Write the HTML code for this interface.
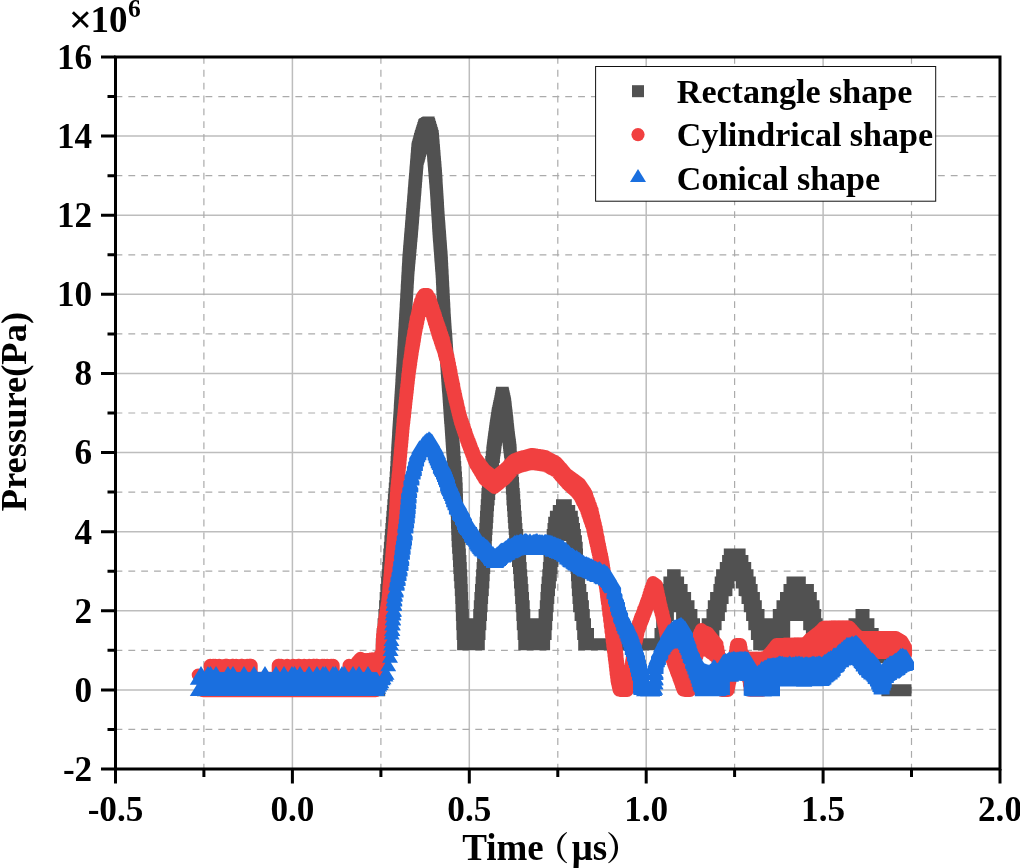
<!DOCTYPE html><html><head><meta charset="utf-8"><title>Pressure vs Time</title><style>html,body{margin:0;padding:0;background:#fff}svg{display:block}text{font-family:"Liberation Serif","Noto Serif CJK SC",serif;font-weight:bold;fill:#000}</style></head><body>
<svg width="1020" height="868" viewBox="0 0 1020 868">
<rect width="1020" height="868" fill="#fff"/>
<path d="M292.4 57V769M469.3 57V769M646.2 57V769M823.1 57V769M115.5 689.9H1000M115.5 610.8H1000M115.5 531.7H1000M115.5 452.6H1000M115.5 373.4H1000M115.5 294.3H1000M115.5 215.2H1000M115.5 136.1H1000" stroke="#BDBDBD" stroke-width="1.5" fill="none"/>
<path d="M203.9 57V769M380.9 57V769M557.8 57V769M734.6 57V769M911.5 57V769M115.5 729.4H1000M115.5 650.3H1000M115.5 571.2H1000M115.5 492.1H1000M115.5 413H1000M115.5 333.9H1000M115.5 254.8H1000M115.5 175.7H1000M115.5 96.6H1000" stroke="#ABABAB" stroke-width="1.2" stroke-dasharray="6.85 6" fill="none"/>
<path d="M203 690.3v0M203.5 690.3v0M204 690.3v0M204.5 690.3v0M205 690.3v0M205.5 690.3v0M206 690.3v0M206.5 690.3v0M207 690.3v0M207.5 690.3v0M208 690.3v0M208.5 690.3v0M209 690.3v0M209.5 690.3v0M210 690.3v0M210.5 690.3v0M211 690.3v0M211.5 690.3v0M212 690.3v0M212.5 690.3v0M213 690.3v0M213.5 690.3v0M214 690.3v0M214.5 690.3v0M215 690.3v0M215.5 690.3v0M216 690.3v0M216.5 690.3v0M217 690.3v0M217.5 690.3v0M218 690.3v0M218.5 690.3v0M219 690.3v0M219.5 690.3v0M220 690.3v0M220.5 690.3v0M221 690.3v0M221.5 690.3v0M222 690.3v0M222.5 690.3v0M223 690.3v0M223.5 690.3v0M224 690.3v0M224.5 690.3v0M225 690.3v0M225.5 690.3v0M226 690.3v0M226.5 690.3v0M227 690.3v0M227.5 690.3v0M228 690.3v0M228.5 690.3v0M229 690.3v0M229.5 690.3v0M230 690.3v0M230.5 690.3v0M231 690.3v0M231.5 690.3v0M232 690.3v0M232.5 690.3v0M233 690.3v0M233.5 690.3v0M234 690.3v0M234.5 690.3v0M235 690.3v0M235.5 690.3v0M236 690.3v0M236.5 690.3v0M237 690.3v0M237.5 690.3v0M238 690.3v0M238.5 690.3v0M239 690.3v0M239.5 690.3v0M240 690.3v0M240.5 690.3v0M241 690.3v0M241.5 690.3v0M242 690.3v0M242.5 690.3v0M243 690.3v0M243.5 690.3v0M244 690.3v0M244.5 690.3v0M245 690.3v0M245.5 690.3v0M246 690.3v0M246.5 690.3v0M247 690.3v0M247.5 690.3v0M248 690.3v0M248.5 690.3v0M249 690.3v0M249.5 690.3v0M250 690.3v0M250.5 690.3v0M251 690.3v0M251.5 690.3v0M252 690.3v0M252.5 690.3v0M253 690.3v0M253.5 690.3v0M254 690.3v0M254.5 690.3v0M255 690.3v0M255.5 690.3v0M256 690.3v0M256.5 690.3v0M257 690.3v0M257.5 690.3v0M258 690.3v0M258.5 690.3v0M259 690.3v0M259.5 690.3v0M260 690.3v0M260.5 690.3v0M261 690.3v0M261.5 690.3v0M262 690.3v0M262.5 690.3v0M263 690.3v0M263.5 690.3v0M264 690.3v0M264.5 690.3v0M265 690.3v0M265.5 690.3v0M266 690.3v0M266.5 690.3v0M267 690.3v0M267.5 690.3v0M268 690.3v0M268.5 690.3v0M269 690.3v0M269.5 690.3v0M270 690.3v0M270.5 690.3v0M271 690.3v0M271.5 690.3v0M272 690.3v0M272.5 690.3v0M273 690.3v0M273.5 690.3v0M274 690.3v0M274.5 690.3v0M275 690.3v0M275.5 690.3v0M276 690.3v0M276.5 690.3v0M277 690.3v0M277.5 690.3v0M278 690.3v0M278.5 690.3v0M279 690.3v0M279.5 690.3v0M280 690.3v0M280.5 690.3v0M281 690.3v0M281.5 690.3v0M282 690.3v0M282.5 690.3v0M283 690.3v0M283.5 690.3v0M284 690.3v0M284.5 690.3v0M285 690.3v0M285.5 690.3v0M286 690.3v0M286.5 690.3v0M287 690.3v0M287.5 690.3v0M288 690.3v0M288.5 690.3v0M289 690.3v0M289.5 690.3v0M290 690.3v0M290.5 690.3v0M291 690.3v0M291.5 690.3v0M292 690.3v0M292.5 690.3v0M293 690.3v0M293.5 690.3v0M294 690.3v0M294.5 690.3v0M295 690.3v0M295.5 690.3v0M296 690.3v0M296.5 690.3v0M297 690.3v0M297.5 690.3v0M298 690.3v0M298.5 690.3v0M299 690.3v0M299.5 690.3v0M300 690.3v0M300.5 690.3v0M301 690.3v0M301.5 690.3v0M302 690.3v0M302.5 690.3v0M303 690.3v0M303.5 690.3v0M304 690.3v0M304.5 690.3v0M305 690.3v0M305.5 690.3v0M306 690.3v0M306.5 690.3v0M307 690.3v0M307.5 690.3v0M308 690.3v0M308.5 690.3v0M309 690.3v0M309.5 690.3v0M310 690.3v0M310.5 690.3v0M311 690.3v0M311.5 690.3v0M312 690.3v0M312.5 690.3v0M313 690.3v0M313.5 690.3v0M314 690.3v0M314.5 690.3v0M315 690.3v0M315.5 690.3v0M316 690.3v0M316.5 690.3v0M317 690.3v0M317.5 690.3v0M318 690.3v0M318.5 690.3v0M319 690.3v0M319.5 690.3v0M320 690.3v0M320.5 690.3v0M321 690.3v0M321.5 690.3v0M322 690.3v0M322.5 690.3v0M323 690.3v0M323.5 690.3v0M324 690.3v0M324.5 690.3v0M325 690.3v0M325.5 690.3v0M326 690.3v0M326.5 690.3v0M327 690.3v0M327.5 690.3v0M328 690.3v0M328.5 690.3v0M329 690.3v0M329.5 690.3v0M330 690.3v0M330.5 690.3v0M331 690.3v0M331.5 690.3v0M332 690.3v0M332.5 690.3v0M333 690.3v0M333.5 690.3v0M334 690.3v0M334.5 690.3v0M335 690.3v0M335.5 690.3v0M336 690.3v0M336.5 690.3v0M337 690.3v0M337.5 690.3v0M338 690.3v0M338.5 690.3v0M339 690.3v0M339.5 690.3v0M340 690.3v0M340.5 690.3v0M341 690.3v0M341.5 690.3v0M342 690.3v0M342.5 690.3v0M343 690.3v0M343.5 690.3v0M344 690.3v0M344.5 690.3v0M345 690.3v0M345.5 690.3v0M346 690.3v0M346.5 690.3v0M347 690.3v0M347.5 690.3v0M348 690.3v0M348.5 690.3v0M349 690.3v0M349.5 690.3v0M350 690.3v0M350.5 690.3v0M351 690.3v0M351.5 690.3v0M352 690.3v0M352.5 690.3v0M353 690.3v0M353.5 690.3v0M354 690.3v0M354.5 690.3v0M355 690.3v0M355.5 690.3v0M356 690.3v0M356.5 690.3v0M357 690.3v0M357.5 690.3v0M358 690.3v0M358.5 690.3v0M359 690.3v0M359.5 690.3v0M360 690.3v0M360.5 690.3v0M361 690.3v0M361.5 690.3v0M362 690.3v0M362.5 690.3v0M363 690.3v0M363.5 690.3v0M364 690.3v0M364.5 690.3v0M365 690.3v0M365.5 690.3v0M366 690.3v0M366.5 690.3v0M367 690.3v0M367.5 690.3v0M368 690.3v0M368.5 690.3v0M369 690.3v0M369.5 690.3v0M370 690.3v0M370.5 690.3v0M371 690.3v0M371.5 690.3v0M372 690.3v0M372.5 690.3v0M373 690.3v0M373.5 690.3v0M374 690.3v0M374.5 690.3v0M375 690.3v0M375.5 690.3v0M376 690.3v0M376.5 690.3v0M377 690.3v0M377.5 690.3v0M378 690.3v0M378.1 690.3v0M378.3 690.3v0M378.4 690.3v0M378.5 690.3v0M378.7 690.3v0M378.8 690.3v0M378.9 690.3v0M379 690.3v0M379.2 690.3v0M379.3 672.5v0M379.4 672.5v0M379.6 672.5v0M379.7 672.5v0M379.8 672.5v0M380 672.5v0M380.1 672.5v0M380.2 672.5v0M380.3 672.5v0M380.5 672.5v0M380.6 672.5v0M380.7 657.3v0M380.9 657.3v0M381 657.3v0M381.1 657.3v0M381.3 657.3v0M381.4 657.3v0M381.5 657.3v0M381.7 657.3v0M381.8 644.2v0M381.9 644.2v0M382 644.2v0M382.2 644.2v0M382.3 644.2v0M382.4 644.2v0M382.6 644.2v0M382.7 634.1v0M382.8 634.1v0M383 634.1v0M383.1 634.1v0M383.2 634.1v0M383.3 634.1v0M383.5 634.1v0M383.6 624.2v0M383.7 624.2v0M383.9 624.2v0M384 624.2v0M384.1 624.2v0M384.2 624.2v0M384.4 615v0M384.5 615v0M384.6 615v0M384.7 615v0M384.9 615v0M385 615v0M385.1 606.3v0M385.2 606.3v0M385.4 606.3v0M385.5 606.3v0M385.6 606.3v0M385.7 598v0M385.9 598v0M386 598v0M386.1 598v0M386.2 598v0M386.3 598v0M386.5 590.1v0M386.6 590.1v0M386.7 590.1v0M386.8 590.1v0M387 590.1v0M387.1 582.5v0M387.2 582.5v0M387.3 582.5v0M387.5 582.5v0M387.6 582.5v0M387.7 575.2v0M387.8 575.2v0M388 575.2v0M388.1 575.2v0M388.2 568v0M388.3 568v0M388.5 568v0M388.6 568v0M388.7 568v0M388.8 561.1v0M388.9 561.1v0M389.1 561.1v0M389.2 561.1v0M389.3 554.4v0M389.4 554.4v0M389.6 554.4v0M389.7 554.4v0M389.8 554.4v0M389.9 547.8v0M390.1 547.8v0M390.2 547.8v0M390.3 547.8v0M390.4 541.3v0M390.6 541.3v0M390.7 541.3v0M390.8 541.3v0M390.9 535v0M391 535v0M391.2 535v0M391.3 535v0M391.4 528.9v0M391.5 528.9v0M391.7 528.9v0M391.8 528.9v0M391.9 522.8v0M392 522.8v0M392.2 522.8v0M392.3 522.8v0M392.4 516.8v0M392.5 516.8v0M392.7 516.8v0M392.8 516.8v0M392.9 511v0M393 511v0M393.2 511v0M393.3 511v0M393.4 505.2v0M393.5 505.2v0M393.6 505.2v0M393.8 505.2v0M393.9 499.6v0M394 499.6v0M394.1 499.6v0M394.3 499.6v0M394.4 494v0M394.5 494v0M394.6 494v0M394.8 488.5v0M394.9 488.5v0M395 488.5v0M395.1 488.5v0M395.3 483v0M395.4 483v0M395.5 483v0M395.6 483v0M395.7 477.6v0M395.8 477.6v0M395.9 477.6v0M396 472.3v0M396.1 472.3v0M396.2 472.3v0M396.3 472.3v0M396.4 467.1v0M396.4 467.1v0M396.5 467.1v0M396.6 461.9v0M396.7 461.9v0M396.8 461.9v0M396.9 456.8v0M397 456.8v0M397.1 456.8v0M397.2 452.9v0M397.3 451.4v0M397.4 449.9v0M397.5 448.4v0M397.6 446.8v0M397.7 445.3v0M397.8 443.8v0M397.9 442.3v0M398 440.8v0M398.1 439.3v0M398.1 437.8v0M398.2 436.3v0M398.3 434.8v0M398.4 433.3v0M398.5 431.8v0M398.6 430.3v0M398.7 428.8v0M398.8 427.3v0M398.9 425.8v0M399 424.2v0M399.1 422.7v0M399.2 421.2v0M399.3 419.7v0M399.4 418.2v0M399.5 416.7v0M399.6 415.2v0M399.7 413.7v0M399.8 412.2v0M399.8 410.7v0M399.9 409.2v0M400 407.7v0M400.1 406.2v0M400.2 404.7v0M400.3 403.1v0M400.4 401.6v0M400.5 400.1v0M400.6 398.6v0M400.7 397.1v0M400.8 395.6v0M400.9 394.1v0M401 392.6v0M401.1 391.1v0M401.2 389.6v0M401.3 388.1v0M401.4 386.6v0M401.4 385.1v0M401.5 383.6v0M401.6 382v0M401.7 380.5v0M401.8 379v0M401.9 377.5v0M402 376v0M402.1 374.5v0M402.2 373v0M402.3 371.5v0M402.4 370v0.1M402.5 368.5v0.2M402.6 367v0.3M402.6 365.5v0.4M402.7 364v0.5M402.8 362.5v0.6M402.9 361v0.8M403 359.4v0.9M403.1 357.9v1M403.1 356.4v1.1M403.2 354.9v1.2M403.3 353.4v1.3M403.4 351.9v1.4M403.5 350.4v1.5M403.6 348.9v1.6M403.6 347.4v1.7M403.7 345.9v1.8M403.8 344.4v1.9M403.9 342.9v2.1M404 341.4v2.2M404.1 339.9v2.3M404.1 338.4v2.4M404.2 336.8v2.5M404.3 335.3v2.6M404.4 333.8v2.7M404.5 332.3v2.8M404.6 330.8v2.9M404.6 329.3v3M404.7 327.8v3.1M404.8 326.3v3.2M404.9 324.8v3.4M405 323.3v3.5M405.1 321.8v3.6M405.1 320.3v3.7M405.2 318.8v3.8M405.3 317.3v3.9M405.4 315.8v4M405.5 314.2v4.1M405.6 312.7v4.2M405.7 311.2v4.3M405.7 309.7v4.4M405.8 308.2v4.5M405.9 306.7v4.6M406 305.2v4.8M406.1 303.7v4.9M406.2 302.2v5M406.2 300.7v5.1M406.3 299.2v5.2M406.4 297.7v5.3M406.5 296.2v5.4M406.6 294.7v5.5M406.7 293.1v5.6M406.7 291.6v5.7M406.8 290.1v5.8M406.9 288.6v5.9M407 287.1v6.1M407.1 285.6v6.2M407.2 284.1v6.3M407.2 282.6v6.4M407.3 281.1v6.5M407.4 279.6v6.6M407.5 278.1v6.7M407.6 276.6v6.8M407.7 275.1v6.9M407.7 273.6v7M407.8 272.1v7.1M407.9 270.5v7.2M408 269v7.4M408.1 267.5v7.5M408.2 266v7.6M408.2 264.5v7.7M408.3 263v7.8M408.4 261.5v7.9M408.5 260v8M408.6 258.5v8.1M408.8 256.9v8.3M408.9 255.4v8.4M409 253.9v8.6M409.1 252.3v8.7M409.2 250.8v8.9M409.4 249.2v9M409.5 247.7v9.1M409.6 246.2v9.3M409.8 244.6v9.4M409.9 243.1v9.6M410 241.6v9.7M410.1 240v9.9M410.2 238.5v10M410.4 237v10.1M410.5 235.4v10.3M410.6 233.9v10.4M410.8 232.4v10.6M410.9 230.8v10.7M411 229.3v10.9M411.1 227.8v11M411.2 226.2v11.1M411.4 224.7v11.3M411.5 223.1v11.4M411.6 221.6v11.6M411.8 220.1v11.7M411.9 218.5v11.9M412 217v12M412.1 215.5v12M412.2 214v12M412.4 212.5v12M412.5 211v12M412.6 209.4v12M412.7 207.9v12M412.9 206.4v12M413 204.9v12M413.1 203.4v12M413.2 201.9v12M413.3 200.4v12M413.5 198.9v12M413.6 197.4v12M413.7 195.8v12M413.8 194.3v12M413.9 192.8v12M414.1 191.3v12M414.2 189.8v12M414.3 188.3v12M414.4 186.8v12M414.5 185.3v12M414.7 183.8v12M414.8 182.3v12M414.9 180.7v12M415 179.2v12M415.2 177.7v12M415.3 176.2v12M415.4 174.7v12M415.5 173.2v12M415.6 171.6v12M415.8 170.1v12M415.9 168.5v12M416 167v12M416.1 165.4v12M416.3 163.9v12M416.4 162.3v12M416.5 160.8v12M416.6 159.2v12M416.8 157.7v12M416.9 156.1v12M417 154.6v12M417.1 153v12M417.3 151.5v12M417.4 149.9v12M417.5 148.4v12M417.9 146.8v12M418.4 145.3v12M418.8 143.8v12M419.2 142.2v12M419.6 140.7v12M420 139.1v12M420.5 137.6v12M420.9 136v12M421.4 134.4v11.4M421.9 132.8v10.9M422.4 131.2v10.3M422.9 129.7v9.7M423.4 128.1v9.1M423.9 126.5v8.6M424.4 124.9v8M424.9 124.6v7M425.4 124.3v6M426 124v5M426.5 123.7v4M427 123.3v3M427.6 123v2M428.1 122.7v1M428.6 122.4v0M429.1 123.9v1.3M429.5 125.4v2.7M430 126.9v4M430.4 128.4v5.3M430.9 130v6.7M431.3 131.5v8M431.8 133v9.3M432.2 134.5v10.7M432.7 136v12M432.8 137.5v12M433 139.1v12M433.1 140.6v12M433.2 142.2v12M433.3 143.7v12M433.5 145.3v12M433.6 146.8v12M433.7 148.4v12M433.9 149.9v12M434 151.5v12M434.1 153v12M434.2 154.6v12M434.4 156.1v12M434.5 157.7v12M434.6 159.2v12M434.7 160.8v12M434.9 162.3v12M435 163.9v12M435.1 165.4v12M435.3 167v12M435.4 168.5v12M435.5 170.1v12M435.6 171.6v12M435.8 173.2v12M435.9 174.7v12M436 176.2v12M436.1 177.7v12M436.2 179.2v12M436.3 180.7v12M436.4 182.2v12M436.5 183.8v12M436.6 185.3v12M436.6 186.8v12M436.7 188.3v12M436.8 189.8v12M436.9 191.3v12M437 192.8v12M437.1 194.3v12M437.2 195.8v12M437.3 197.3v12M437.4 198.9v12M437.5 200.4v12M437.6 201.9v12M437.7 203.4v12M437.8 204.9v12M437.9 206.4v12M438 207.9v12M438 209.4v12M438.1 210.9v12M438.2 212.4v12M438.3 214v12M438.4 215.5v12M438.5 217v12M438.6 218.5v12M438.7 220v12M438.8 221.5v12M438.9 223.1v12M439 224.6v12M439.2 226.2v12M439.3 227.7v12M439.4 229.2v12M439.5 230.8v12M439.6 232.3v12M439.7 233.8v12M439.9 235.4v12M440 236.9v12M440.1 238.5v12M440.2 240v12M440.3 241.5v12M440.4 243.1v12M440.5 244.6v12M440.7 246.2v12M440.8 247.7v12M440.9 249.2v12M441 250.8v12M441.1 252.3v12M441.2 253.8v12M441.4 255.4v12M441.5 256.9v12M441.6 258.5v12M441.7 260v12M441.8 261.5v12.2M441.9 263v12.4M441.9 264.5v12.6M442 266v12.8M442.1 267.5v13M442.2 269v13.2M442.2 270.5v13.4M442.3 272v13.6M442.4 273.5v13.8M442.5 275v14M442.6 276.5v14.2M442.6 278v14.4M442.7 279.5v14.6M442.8 281v14.8M442.9 282.5v15M442.9 284v15.2M443 285.5v15.4M443.1 287v15.6M443.2 288.5v15.8M443.2 290v16M443.3 291.5v16.2M443.4 293v16.4M443.5 294.5v16.6M443.6 296v16.8M443.6 297.5v17M443.7 299v17.2M443.8 300.5v17.4M443.9 302v17.6M443.9 303.5v17.8M444 305v18M444.1 306.5v18.2M444.2 308v18.4M444.3 309.5v18.6M444.3 311v18.8M444.4 312.5v19M444.5 314v19.2M444.6 315.5v19.4M444.6 317v19.6M444.7 318.5v19.8M444.8 320v20M444.9 321.5v20M445 323v20M445.1 324.5v20M445.2 326v20M445.3 327.5v20M445.4 329v20M445.5 330.5v20M445.6 332v20M445.7 333.5v20M445.8 335v20M446 336.5v20M446.1 338v20M446.2 339.5v20M446.3 341v20M446.4 342.5v20M446.5 344v20M446.6 345.5v20M446.7 347v20M446.8 348.5v20M446.9 350v20M447 351.5v20M447.1 353v20M447.2 354.5v20M447.3 356v20M447.4 357.5v20M447.5 359v20M447.6 360.5v20M447.7 362v20M447.8 363.5v20M447.9 365v20M448 366.5v20M448.2 368v20M448.3 369.5v20M448.4 371v20M448.5 372.5v20M448.6 374v20M448.7 375.5v20M448.8 377v20M448.9 378.5v20M449 380v20M449.1 381.5v20M449.2 383v20M449.3 384.5v20M449.4 386v20M449.5 387.5v20M449.6 389v20M449.7 390.5v20M449.8 392v20M449.9 393.5v20M450 395v20M450.1 396.5v20M450.2 398v20M450.4 399.5v20M450.5 401v20M450.6 402.5v20M450.7 404v20M450.8 405.5v20M450.9 407v20M451 408.5v20M451.1 410v20M451.2 411.5v20M451.3 413v20M451.4 414.5v20M451.5 416v20M451.6 417.5v20M451.7 419v20M451.8 420.5v20M451.9 422v20M452 423.5v20M452.1 425v20M452.2 426.5v20M452.3 428v20M452.4 429.5v20M452.6 431v20M452.7 432.5v20M452.8 434v17.7M452.9 435.5v21.3M453 437v19.8M453.1 438.5v18.3M453.2 440v21.9M453.3 441.5v20.4M453.4 443v18.9M453.5 444.5v17.4M453.6 446v21.1M453.7 447.5v19.6M453.8 449.1v18M453.9 450.6v21.7M454.1 452.2v20.2M454.2 453.7v18.7M454.3 456.8v20.8M454.4 456.8v20.8M454.5 461.9v15.7M454.6 461.9v15.7M454.8 461.9v21.1M454.9 467.1v15.9M455 467.1v15.9M455.1 467.1v21.3M455.2 467.1v21.3M455.3 472.3v16.1M455.4 472.3v16.1M455.6 472.3v21.6M455.7 477.6v16.3M455.8 477.6v16.3M455.9 477.6v21.9M456 477.6v21.9M456.1 483v16.5M456.3 483v16.5M456.4 483v22.2M456.5 488.5v16.8M456.6 488.5v16.8M456.6 488.5v16.8M456.7 488.5v22.5M456.7 494v17M456.8 494v17M456.8 494v17M456.9 499.6v17.3M456.9 499.6v17.3M457 499.6v17.3M457 499.6v23.2M457 505.2v17.6M457.1 505.2v17.6M457.1 505.2v17.6M457.2 511v17.9M457.2 511v17.9M457.3 511v17.9M457.3 511v17.9M457.4 516.8v18.2M457.4 516.8v18.2M457.5 516.8v18.2M457.6 516.8v18.2M457.7 522.8v18.5M457.8 522.8v18.5M457.9 522.8v18.5M458 522.8v18.5M458.1 528.9v18.9M458.2 528.9v18.9M458.3 528.9v18.9M458.4 528.9v18.9M458.5 535v12.7M458.6 535v19.3M458.7 535v19.3M458.8 535v19.3M458.9 541.3v13M459 541.3v19.8M459.1 541.3v19.8M459.1 541.3v19.8M459.2 547.8v13.3M459.3 547.8v20.3M459.4 547.8v20.3M459.5 547.8v20.3M459.6 554.4v13.7M459.7 554.4v13.7M459.8 554.4v20.8M459.9 554.4v20.8M460 561.1v14.1M460.1 561.1v14.1M460.2 561.1v14.1M460.3 561.1v21.4M460.4 561.1v21.4M460.5 568v14.5M460.6 568v14.5M460.7 568v14.5M460.8 568v22.1M460.9 575.2v15M461 575.2v15M461 575.2v15M461.1 575.2v15M461.2 575.2v22.9M461.2 582.5v15.5M461.3 582.5v15.5M461.3 582.5v15.5M461.4 582.5v15.5M461.5 582.5v23.8M461.5 590.1v16.2M461.6 590.1v16.2M461.7 590.1v16.2M461.7 590.1v16.2M461.8 590.1v16.2M461.9 598v16.9M461.9 598v16.9M462 598v16.9M462 598v16.9M462.1 598v16.9M462.2 606.3v17.9M462.2 606.3v17.9M462.3 606.3v17.9M462.4 606.3v17.9M462.4 606.3v17.9M462.5 606.3v17.9M462.6 615v9.2M462.6 615v19.1M462.7 615v19.1M462.8 615v19.1M462.8 615v19.1M462.9 615v19.1M462.9 624.2v9.9M463 624.2v9.9M463.1 624.2v20M463.1 624.2v20M463.2 624.2v20M463.7 624.2v20M464.2 624.2v20M464.7 624.2v20M465.2 624.2v20M465.8 624.2v20M466.3 624.2v20M466.8 624.2v20M467.3 624.2v20M467.8 624.2v20M468.3 624.2v20M468.8 624.2v20M469.3 624.2v20M469.8 624.2v20M470.3 624.2v20M470.9 624.2v20M471.4 624.2v20M471.9 624.2v20M472.4 624.2v20M472.9 624.2v20M473.4 624.2v20M473.9 624.2v20M474.4 624.2v20M474.9 624.2v20M475.4 624.2v20M475.9 624.2v20M476.5 624.2v20M477 624.2v20M477.5 624.2v20M478 624.2v20M478.5 624.2v20M478.6 624.2v20M478.7 624.2v20M478.8 624.2v20M479 624.2v9.9M479.1 624.2v9.9M479.2 615v19.1M479.3 615v19.1M479.4 615v19.1M479.5 615v19.1M479.6 615v9.2M479.8 606.3v17.9M479.9 606.3v17.9M480 606.3v17.9M480.1 606.3v17.9M480.2 606.3v17.9M480.3 606.3v17.9M480.4 598v16.9M480.5 598v16.9M480.7 598v16.9M480.8 598v16.9M480.9 598v16.9M481 590.1v24.9M481.1 590.1v16.2M481.2 590.1v16.2M481.3 590.1v16.2M481.5 590.1v16.2M481.6 582.5v23.8M481.7 582.5v15.5M481.8 582.5v15.5M481.9 582.5v15.5M482 582.5v15.5M482.1 575.2v22.9M482.2 575.2v15M482.3 575.2v15M482.4 575.2v15M482.5 575.2v15M482.6 568v22.1M482.8 568v22.1M482.9 568v14.5M483 568v14.5M483.1 561.1v21.4M483.2 561.1v21.4M483.3 561.1v21.4M483.4 561.1v14.1M483.5 561.1v14.1M483.6 554.4v20.8M483.7 554.4v20.8M483.8 554.4v13.7M483.9 554.4v13.7M484 547.8v20.3M484.1 547.8v20.3M484.2 547.8v20.3M484.3 547.8v13.3M484.4 547.8v13.3M484.5 541.3v19.8M484.6 541.3v19.8M484.7 541.3v13M484.8 541.3v13M484.9 535v19.3M485 535v19.3M485.1 535v12.7M485.2 535v12.7M485.3 528.9v18.9M485.4 528.9v18.9M485.5 528.9v12.5M485.6 528.9v12.5M485.7 522.8v18.5M485.8 522.8v18.5M485.8 522.8v12.2M485.9 522.8v12.2M486 516.8v18.2M486.1 516.8v18.2M486.2 516.8v12M486.3 516.8v12M486.4 511v17.9M486.5 511v17.9M486.6 511v11.8M486.7 511v11.8M486.8 505.2v17.6M486.9 505.2v17.6M487 505.2v11.6M487.1 505.2v11.6M487.2 499.6v17.3M487.3 499.6v17.3M487.4 499.6v11.4M487.5 494v17M487.6 494v17M487.7 494v11.3M487.8 494v11.3M487.9 488.5v16.8M488 488.5v16.8M488.2 488.5v11.1M488.4 488.5v11.1M488.6 483v16.5M488.8 483v11M489 483v11M489.2 477.6v16.3M489.4 477.6v10.8M489.6 477.6v10.8M489.8 472.3v16.1M490 472.3v16.1M490.2 472.3v10.7M490.4 472.3v10.7M490.6 467.1v15.9M490.8 467.1v10.5M491 467.1v10.5M491.2 461.9v15.7M491.4 461.9v10.4M491.6 461.9v10.4M491.8 456.8v15.5M492 456.8v15.5M492.1 456.8v10.3M492.3 452.8v14.3M492.5 451.3v15.8M492.7 449.7v12.2M492.9 448.2v13.7M493.1 446.6v15.3M493.3 445.1v11.7M493.5 443.5v13.3M493.7 442v14.9M493.9 440.4v16.4M494.1 438.8v14M494.3 437.2v14M494.6 435.7v14M494.8 434.1v14M495 432.5v14M495.2 430.9v14M495.4 429.4v14M495.6 427.8v14M495.9 426.1v14M496.1 424.5v14M496.4 422.8v14M496.6 421.2v14M496.9 419.5v14M497.1 417.9v14M497.4 416.2v14M497.6 414.6v14M497.9 412.9v14M498.3 411.2v14M498.7 409.4v14M499 407.7v14M499.4 406v14M499.8 404.2v14M500.2 402.5v14M500.5 400.9v13.3M500.8 399.2v12.7M501.1 397.6v12M501.4 396v11.3M501.7 394.3v10.7M502 392.7v10M502.7 392.7v10M503.1 394.3v9.3M503.4 396v8.7M503.8 397.6v8M504.2 399.2v7.3M504.5 400.9v6.7M504.9 402.5v6M505.1 404v5.8M505.3 405.6v5.6M505.5 407.1v5.3M505.7 408.6v5.1M505.8 410.2v4.9M506 411.7v4.7M506.2 413.2v4.4M506.4 414.8v4.2M506.6 416.3v4M506.8 417.9v4M506.9 419.4v4M507.1 421v4M507.3 422.6v4M507.4 424.2v4M507.6 425.7v4M507.7 427.3v4M507.9 428.9v4M508.1 430.5v4M508.2 432v4M508.4 433.6v4M508.6 435.2v4.2M508.8 436.9v4.4M509 438.5v4.6M509.2 440.2v4.8M509.4 441.8v5M509.7 443.4v5.2M509.9 445.1v5.4M510.1 446.7v5.6M510.3 448.4v3.4M510.5 450v6.8M510.6 451.5v5.3M510.7 453.1v8.9M510.8 456.8v5.1M510.9 456.8v10.3M511.1 461.9v5.2M511.2 461.9v10.4M511.3 461.9v10.4M511.4 461.9v10.4M511.5 467.1v10.5M511.6 467.1v10.5M511.7 467.1v15.9M511.8 472.3v10.7M511.9 472.3v16.1M512.1 472.3v16.1M512.2 472.3v16.1M512.3 477.6v16.3M512.4 477.6v16.3M512.5 477.6v21.9M512.6 483v16.5M512.7 483v16.5M512.8 483v16.5M513 483v22.2M513.1 488.5v16.8M513.2 488.5v16.8M513.3 488.5v16.8M513.4 494v17M513.5 494v17M513.6 494v17M513.8 494v22.9M513.9 499.6v17.3M514 499.6v17.3M514.1 499.6v17.3M514.2 499.6v23.2M514.3 505.2v17.6M514.4 505.2v17.6M514.6 505.2v17.6M514.7 505.2v23.6M514.8 511v17.9M514.9 511v17.9M515 511v17.9M515.1 516.8v18.2M515.2 516.8v18.2M515.4 516.8v18.2M515.5 516.8v18.2M515.6 522.8v12.2M515.7 522.8v18.5M515.8 522.8v18.5M515.9 522.8v18.5M516 528.9v12.5M516.2 528.9v18.9M516.3 528.9v18.9M516.4 528.9v18.9M516.5 535v12.7M516.8 535v19.3M517 535v19.3M517.2 535v19.3M517.5 541.3v13M517.8 541.3v13M518 541.3v19.8M518.2 541.3v19.8M518.5 541.3v19.8M518.8 547.8v13.3M519 547.8v20.3M519.1 547.8v20.3M519.2 547.8v20.3M519.3 554.4v13.7M519.5 554.4v13.7M519.6 554.4v20.8M519.7 554.4v20.8M519.8 561.1v14.1M519.9 561.1v14.1M520 561.1v21.4M520.1 561.1v21.4M520.3 568v14.5M520.4 568v14.5M520.5 568v14.5M520.6 568v22.1M520.7 568v22.1M520.8 575.2v15M521 575.2v15M521.1 575.2v22.9M521.2 575.2v22.9M521.3 582.5v15.5M521.4 582.5v15.5M521.5 582.5v15.5M521.7 582.5v23.8M521.8 582.5v23.8M521.9 590.1v16.2M522 590.1v16.2M522.1 590.1v16.2M522.3 590.1v24.9M522.4 590.1v24.9M522.5 598v16.9M522.6 598v16.9M522.7 598v16.9M522.8 598v26.2M523 598v26.2M523.1 606.3v17.9M523.2 606.3v17.9M523.3 606.3v17.9M523.4 606.3v17.9M523.6 606.3v27.8M523.7 606.3v27.8M523.8 615v19.1M523.9 615v19.1M524 615v19.1M524.1 615v19.1M524.3 615v29.2M524.4 624.2v20M524.5 624.2v20M525 624.2v20M525.5 624.2v20M526 624.2v20M526.5 624.2v20M527 624.2v20M527.5 624.2v20M528 624.2v20M528.5 624.2v20M529 624.2v20M529.5 624.2v20M530 624.2v20M530.5 624.2v20M531 624.2v20M531.5 624.2v20M532 624.2v20M532.5 624.2v20M533 624.2v20M533.5 624.2v20M534 624.2v20M534.5 624.2v20M535 624.2v20M535.5 624.2v20M536 624.2v20M536.5 624.2v20M537 624.2v20M537.5 624.2v20M538 624.2v20M538.5 624.2v20M539 624.2v20M539.5 624.2v20M540 624.2v20M540.5 624.2v20M541 624.2v20M541.5 624.2v20M542 624.2v20M542.5 624.2v20M543 624.2v20M543.5 624.2v20M544.1 624.2v20M544.6 615v19.1M545.2 615v19.1M545.3 615v19.1M545.4 615v19.1M545.6 615v19.1M545.7 615v9.2M545.8 606.3v17.9M545.9 606.3v17.9M546 606.3v17.9M546.1 606.3v17.9M546.2 606.3v17.9M546.4 598v16.9M546.5 598v16.9M546.6 598v16.9M546.7 598v16.9M546.8 598v16.9M546.9 590.1v24.9M547.1 590.1v16.2M547.2 590.1v16.2M547.3 590.1v16.2M547.4 590.1v16.2M547.6 582.5v23.8M547.7 582.5v15.5M547.9 582.5v15.5M548 582.5v15.5M548.1 582.5v15.5M548.3 575.2v22.9M548.4 575.2v15M548.6 575.2v15M548.7 575.2v15M548.9 568v22.1M549 568v22.1M549.2 568v14.5M549.4 568v14.5M549.5 561.1v21.4M549.7 561.1v21.4M549.9 561.1v21.4M550.1 561.1v14.1M550.2 561.1v14.1M550.4 554.4v20.8M550.6 554.4v20.8M550.8 554.4v20.8M551 554.4v13.7M551.1 547.8v20.3M551.3 547.8v20.3M551.5 547.8v20.3M551.7 547.8v13.3M551.9 547.8v13.3M552 541.3v19.8M552.2 541.3v19.8M552.4 541.3v19.8M552.6 541.3v13M552.7 535v19.3M552.9 535v19.3M553.1 535v19.3M553.3 535v12.7M553.5 528.9v18.9M553.7 528.9v18.9M553.8 528.9v18.9M554 528.9v12.5M554.2 522.8v18.5M554.8 522.8v18.5M555.4 522.8v18.5M555.9 516.8v18.2M556.5 516.8v18.2M557.1 516.8v18.2M557.7 516.8v18.2M558.2 516.8v18.2M558.8 511v24M559.4 511v24M559.9 511v17.9M560.5 511v17.9M561 511v17.9M561.5 511v17.9M562 505.2v23.6M562.6 505.2v23.6M563.1 505.2v23.6M563.6 505.2v23.6M564.2 505.2v23.6M564.7 505.2v23.6M565.3 505.2v23.6M565.8 505.2v23.6M566.4 511v17.9M566.9 511v17.9M567.5 511v17.9M568 511v17.9M568.6 511v24M569.2 511v24M569.8 516.8v18.2M570.3 516.8v18.2M570.9 516.8v18.2M571.5 516.8v18.2M571.8 516.8v18.2M572.2 522.8v18.5M572.5 522.8v18.5M572.9 522.8v18.5M573.2 528.9v12.5M573.5 528.9v18.9M573.8 528.9v18.9M574 528.9v18.9M574.3 535v12.7M574.6 535v19.3M574.9 535v19.3M575.1 541.3v13M575.4 541.3v13M575.6 541.3v19.8M575.9 541.3v19.8M576.1 547.8v13.3M576.4 547.8v13.3M576.6 547.8v20.3M576.7 547.8v20.3M576.8 554.4v13.7M576.9 554.4v13.7M577 554.4v20.8M577 554.4v20.8M577.1 561.1v14.1M577.2 561.1v14.1M577.3 561.1v14.1M577.4 561.1v21.4M577.5 561.1v21.4M577.6 568v14.5M577.7 568v14.5M577.9 568v22.1M578 568v22.1M578.1 575.2v15M578.2 575.2v15M578.3 575.2v15M578.5 575.2v22.9M578.6 575.2v22.9M578.7 582.5v15.5M578.8 582.5v15.5M578.9 582.5v15.5M579.1 582.5v23.8M579.2 590.1v16.2M579.3 590.1v16.2M579.6 590.1v16.2M579.9 590.1v16.2M580.3 590.1v16.2M580.6 598v16.9M580.9 598v16.9M581.2 598v16.9M581.6 598v16.9M581.9 598v16.9M582.2 606.3v8.7M582.3 606.3v17.9M582.5 606.3v17.9M582.6 606.3v17.9M582.8 606.3v17.9M582.9 606.3v17.9M583.1 615v9.2M583.2 615v19.1M583.4 615v19.1M583.5 615v19.1M583.6 615v19.1M583.8 615v19.1M583.9 624.2v9.9M584.1 624.2v9.9M584.2 624.2v20M584.4 624.2v20M584.5 624.2v20M585 624.2v20M585.5 634.1v10.1M586 634.1v10.1M586.5 634.1v10.1M587 634.1v10.1M587.5 634.1v10.1M588 634.1v10.1M588.3 644.2v0M588.7 644.2v0M589 644.2v0M589.3 644.2v0M589.7 644.2v0M590 644.2v0M590.5 644.2v0M591 644.2v0M591.5 644.2v0M592 644.2v0M592.5 644.2v0M593 644.2v0M593.5 644.2v0M594 644.2v0M594.5 644.2v0M595 644.2v0M595.5 644.2v0M596 644.2v0M596.5 644.2v0M597 644.2v0M597.5 644.2v0M598 644.2v0M598.5 644.2v0M599 644.2v0M599.5 644.2v0M600 644.2v0M600.5 644.2v0M601 644.2v0M601.5 644.2v0M602 644.2v0M602.5 644.2v0M603 644.2v0M603.5 644.2v0M604 644.2v0M604.5 644.2v0M605 644.2v0M605.5 644.2v0M606 644.2v0M606.5 644.2v0M607 644.2v0M607.5 644.2v0M608 644.2v0M608.5 644.2v0M609 644.2v0M609.5 644.2v0M610 644.2v0M610.5 644.2v0M611 644.2v0M611.5 644.2v0M612 644.2v0M612.5 644.2v0M613 644.2v0M613.5 644.2v0M614 644.2v0M614.5 644.2v0M615 644.2v0M615.5 644.2v0M616 644.2v0M616.5 644.2v0M617 644.2v0M617.5 644.2v0M618 644.2v0M618.5 644.2v0M619 644.2v0M619.5 644.2v0M620 644.2v0M620.5 644.2v0M621 644.2v0M621.5 644.2v0M622 644.2v0M622.5 644.2v0M623 644.2v0M623.5 644.2v0M624 644.2v0M624.5 644.2v0M625 644.2v0M625.5 644.2v0M626 644.2v0M626.5 644.2v0M627 644.2v0M627.5 644.2v0M628 644.2v0M628.5 644.2v0M629 644.2v0M629.5 644.2v0M630 644.2v0M630.5 644.2v0M631 644.2v0M631.5 644.2v0M632 644.2v0M632.5 644.2v0M633 644.2v0M633.5 644.2v0M634 644.2v0M634.5 644.2v0M635 644.2v0M635.5 644.2v0M636 644.2v0M636.5 644.2v0M637 644.2v0M637.5 644.2v0M638 644.2v0M638.5 644.2v0M639 644.2v0M639.5 644.2v0M640 644.2v0M640.5 644.2v0M641 644.2v0M641.5 644.2v0M642 644.2v0M642.5 644.2v0M643 644.2v0M643.5 644.2v0M644 644.2v0M644.5 644.2v0M645 644.2v0M645.5 644.2v0M646 644.2v0M646.5 644.2v0M647 644.2v0M647.5 644.2v0M648 644.2v0M648.5 644.2v0M649 644.2v0M649.5 644.2v0M650 644.2v0M650.5 644.2v0M651 644.2v0M651.5 644.2v0M652 644.2v0M652.5 644.2v0M653 644.2v0M653.5 644.2v0M654 644.2v0M654.5 644.2v0M655 644.2v0M655.5 644.2v0M656 644.2v0M656.5 644.2v0M657 644.2v0M657.5 644.2v0M658 644.2v0M658.5 644.2v0M659 644.2v0M659.2 644.2v0M659.5 644.2v0M659.8 644.2v0M660 644.2v0M660.2 644.2v0M660.5 634.1v10.1M660.8 634.1v10.1M661 634.1v10.1M661.2 634.1v10.1M661.5 634.1v10.1M661.7 634.1v0M661.9 634.1v0M662.2 624.2v9.9M662.4 624.2v9.9M662.6 624.2v9.9M662.9 624.2v9.9M663.1 624.2v9.9M663.4 624.2v9.9M663.6 615v19.1M663.8 615v19.1M664.1 615v19.1M664.3 615v9.2M664.5 615v9.2M664.8 606.3v17.9M665 606.3v17.9M665.3 606.3v17.9M665.6 606.3v17.9M665.9 606.3v17.9M666.2 606.3v17.9M666.5 598v16.9M666.8 598v16.9M667.1 598v16.9M667.3 598v16.9M667.6 598v16.9M667.9 590.1v24.9M668.2 590.1v16.2M668.5 590.1v16.2M668.8 590.1v16.2M669.1 590.1v16.2M669.4 582.5v23.8M669.9 582.5v23.8M670.5 582.5v15.5M671 582.5v15.5M671.5 582.5v15.5M672 582.5v15.5M672.6 582.5v15.5M673.1 575.2v22.9M673.6 575.2v22.9M674.2 575.2v22.9M674.7 575.2v22.9M675.3 582.5v15.5M675.8 582.5v15.5M676.4 582.5v15.5M677 582.5v15.5M677.5 582.5v15.5M678.1 582.5v23.8M678.6 590.1v16.2M679.1 590.1v16.2M679.6 590.1v16.2M680.1 590.1v16.2M680.6 590.1v16.2M681.1 590.1v16.2M681.6 590.1v16.2M682.1 598v16.9M682.6 598v16.9M683.1 598v16.9M683.6 598v16.9M684.1 598v16.9M684.6 598v16.9M685.1 598v16.9M685.7 606.3v17.9M686.2 606.3v17.9M686.8 606.3v17.9M687.4 606.3v17.9M687.9 606.3v17.9M688.5 606.3v17.9M689 615v9.2M689.5 615v19.1M690 615v19.1M690.4 615v19.1M690.9 615v19.1M691.4 615v19.1M691.8 624.2v9.9M692.3 624.2v9.9M692.7 624.2v20M693.1 624.2v20M693.6 624.2v20M694 624.2v20M694.5 634.1v10.1M695 634.1v10.1M695.5 634.1v10.1M696 634.1v10.1M696.5 634.1v10.1M697 634.1v10.1M697.5 634.1v10.1M698 634.1v10.1M698.5 634.1v10.1M699 634.1v10.1M699.5 634.1v10.1M700 634.1v10.1M700.6 634.1v10.1M701.1 634.1v10.1M701.6 634.1v10.1M702.1 634.1v10.1M702.6 634.1v10.1M703.1 634.1v10.1M703.6 634.1v10.1M704.1 634.1v10.1M704.6 634.1v10.1M705.1 634.1v10.1M705.6 634.1v10.1M706.1 634.1v10.1M706.7 634.1v10.1M707.2 634.1v10.1M707.7 624.2v20M708.2 624.2v20M708.7 624.2v20M709.2 624.2v20M709.8 624.2v20M710.3 624.2v20M710.9 624.2v20M711.4 624.2v9.9M712 624.2v9.9M712.5 615v19.1M712.7 615v19.1M712.9 615v19.1M713.1 615v19.1M713.4 615v19.1M713.6 615v9.2M713.8 606.3v17.9M714.3 606.3v17.9M714.7 606.3v17.9M715.2 606.3v17.9M715.6 606.3v17.9M716.1 598v16.9M716.6 598v16.9M717.2 598v16.9M717.8 598v16.9M718.3 598v16.9M718.9 598v16.9M719.4 590.1v16.2M719.7 590.1v16.2M720 590.1v16.2M720.4 590.1v16.2M720.7 582.5v23.8M721.1 582.5v15.5M721.4 582.5v15.5M721.8 582.5v15.5M722.1 575.2v22.9M722.6 575.2v22.9M723.2 575.2v15M723.7 575.2v15M724.2 575.2v15M724.7 575.2v15M725.3 575.2v15M725.8 568v22.1M726.4 568v22.1M727 568v14.5M727.5 568v14.5M728.1 561.1v21.4M728.5 561.1v21.4M729 561.1v14.1M729.4 561.1v14.1M729.8 554.4v20.8M730.3 554.4v20.8M730.8 554.4v20.8M731.3 554.4v20.8M731.9 554.4v20.8M732.4 554.4v20.8M732.9 554.4v20.8M733.4 554.4v20.8M733.9 554.4v20.8M734.4 554.4v20.8M735 554.4v20.8M735.5 554.4v20.8M736 554.4v20.8M736.5 554.4v20.8M737 554.4v20.8M737.5 554.4v20.8M738.1 554.4v20.8M738.6 554.4v20.8M739.1 554.4v20.8M739.6 554.4v20.8M740.2 561.1v14.1M740.7 561.1v14.1M741.3 561.1v14.1M741.8 561.1v21.4M742.4 561.1v21.4M743 568v14.5M743.5 568v14.5M744.1 568v14.5M744.6 568v22.1M745.2 568v22.1M745.8 575.2v15M746.4 575.2v15M746.9 575.2v15M747.5 575.2v22.9M748.1 582.5v15.5M748.6 582.5v15.5M749.2 582.5v15.5M749.8 582.5v23.8M750.2 590.1v16.2M750.7 590.1v16.2M751.1 590.1v16.2M751.6 590.1v16.2M752.1 598v16.9M752.5 598v16.9M753 598v16.9M753.4 598v16.9M753.9 598v16.9M754.3 606.3v17.9M754.7 606.3v17.9M755 606.3v17.9M755.4 606.3v17.9M755.8 606.3v17.9M756.3 615v9.2M756.9 615v19.1M757.4 615v19.1M758 615v19.1M758.5 615v19.1M758.8 624.2v9.9M759 624.2v9.9M759.2 624.2v20M759.5 624.2v20M759.8 624.2v20M760 624.2v20M760.5 624.2v20M761 624.2v20M761.5 624.2v20M762 624.2v20M762.5 624.2v20M763 624.2v20M763.5 624.2v20M764 624.2v20M764.5 624.2v20M765 624.2v20M765.5 624.2v20M766 624.2v20M766.5 624.2v20M767 624.2v20M767.5 624.2v20M768 624.2v20M768.5 624.2v20M769 624.2v20M769.5 624.2v20M770 624.2v20M770.5 624.2v20M771 624.2v20M771.5 624.2v20M772 624.2v20M772.5 624.2v20M773 624.2v20M773.5 624.2v20M774 624.2v20M774.5 624.2v20M775 624.2v20M775.5 624.2v20M776 624.2v20M776.5 624.2v20M777 624.2v20M777.5 624.2v20M777.8 624.2v20M778 624.2v20M778.3 624.2v9.9M778.5 624.2v9.9M778.8 615v19.1M779.3 615v19.1M779.9 615v19.1M780.4 615v19.1M780.9 615v19.1M781.4 615v19.1M782 615v19.1M782.5 606.3v27.8M783.1 606.3v27.8M783.6 606.3v27.8M784.2 606.3v27.8M784.4 606.3v8.7M784.9 606.3v8.7M785.4 606.3v8.7M786 598v16.9M786.5 598v16.9M787 598v16.9M787.5 598v16.9M788 598v16.9M788.5 598v16.9M789 598v16.9M789.5 590.1v24.9M790 590.1v24.9M790.5 590.1v24.9M791 590.1v24.9M791.5 590.1v24.9M792 590.1v24.9M792.5 582.5v32.5M793 582.5v32.5M793.5 582.5v32.5M794.1 582.5v32.5M794.6 582.5v32.5M795.1 582.5v32.5M795.6 582.5v32.5M796.1 582.5v32.5M796.7 582.5v32.5M797.2 582.5v32.5M797.7 582.5v32.5M798.2 582.5v32.5M798.8 582.5v32.5M799.3 582.5v32.5M799.8 582.5v32.5M800.3 590.1v24.9M800.8 590.1v24.9M801.3 590.1v24.9M801.8 590.1v24.9M802.3 590.1v24.9M802.8 590.1v24.9M803.3 590.1v24.9M803.8 590.1v24.9M804.4 590.1v24.9M804.9 590.1v24.9M805.4 590.1v24.9M805.9 590.1v24.9M806.4 590.1v24.9M806.9 590.1v24.9M807.4 590.1v24.9M807.9 590.1v24.9M808.5 598v16.9M809 598v16.9M809.2 598v26.2M809.7 598v26.2M810.3 598v26.2M810.8 598v26.2M811.4 606.3v17.9M811.9 606.3v27.8M812.4 606.3v27.8M813 606.3v27.8M813.5 606.3v27.8M813.8 615v19.1M814.1 615v19.1M814.4 615v19.1M814.7 615v19.1M815 615v19.1M815.2 615v19.1M815.5 624.2v20M815.8 624.2v20M816.1 624.2v20M816.4 624.2v20M816.7 624.2v20M817 634.1v10.1M817.4 634.1v10.1M817.7 634.1v10.1M818 634.1v10.1M818.4 634.1v23.2M818.7 634.1v23.2M819 634.1v23.2M819.3 644.2v13.1M819.7 644.2v13.1M820 644.2v13.1M820.5 644.2v13.1M821 644.2v13.1M821.5 644.2v13.1M822 644.2v13.1M822.5 644.2v13.1M823 644.2v13.1M823.5 644.2v13.1M824 644.2v13.1M824.5 644.2v13.1M825 644.2v13.1M825.5 644.2v13.1M826 644.2v13.1M826.5 644.2v13.1M827 644.2v13.1M827.5 644.2v13.1M828 644.2v13.1M828.5 644.2v13.1M829 644.2v13.1M829.5 644.2v13.1M830 644.2v13.1M830.5 644.2v13.1M831 644.2v13.1M831.5 644.2v13.1M832 644.2v13.1M832.5 644.2v13.1M833 644.2v13.1M833.5 644.2v13.1M834 644.2v13.1M834.5 644.2v13.1M835 644.2v13.1M835.5 644.2v13.1M836 644.2v13.1M836.5 644.2v13.1M837 644.2v13.1M837.5 644.2v13.1M838 644.2v13.1M838.5 644.2v13.1M839 644.2v13.1M839.5 644.2v13.1M840 644.2v13.1M840.5 644.2v13.1M841 644.2v13.1M841.5 644.2v13.1M842 644.2v13.1M842.5 644.2v13.1M843 644.2v13.1M843.5 644.2v13.1M844 644.2v13.1M844.5 644.2v13.1M845 644.2v13.1M845.5 644.2v13.1M846 644.2v13.1M846.5 644.2v13.1M847 644.2v13.1M847.5 644.2v13.1M848 644.2v13.1M848.5 644.2v13.1M849 644.2v13.1M849.5 644.2v13.1M850 644.2v13.1M850.5 644.2v13.1M851 644.2v13.1M851.5 644.2v13.1M852 644.2v13.1M852.2 644.2v13.1M852.5 644.2v13.1M852.8 634.1v23.2M853 634.1v23.2M853.2 634.1v23.2M853.5 634.1v10.1M853.8 634.1v10.1M854 634.1v10.1M854.2 634.1v10.1M854.5 624.2v20M855 624.2v20M855.5 624.2v20M856 624.2v20M856.5 624.2v20M857 624.2v20M857.5 624.2v20M858 624.2v20M858.5 624.2v20M859 624.2v20M859.5 624.2v20M860 624.2v20M860.5 624.2v20M860.7 624.2v20M860.8 624.2v20M861 624.2v20M861.2 624.2v9.9M861.3 624.2v9.9M861.5 615v19.1M862 615v19.1M862.5 615v19.1M863 615v19.1M863.5 615v19.1M863.7 624.2v9.9M863.8 624.2v9.9M864 624.2v20M864.2 624.2v20M864.3 624.2v20M864.5 624.2v20M865.1 624.2v20M865.6 624.2v20M866.2 624.2v20M866.7 624.2v20M867.3 624.2v20M867.8 624.2v20M868.4 624.2v20M868.9 634.1v10.1M869.5 634.1v10.1M870 634.1v10.1M870.5 634.1v10.1M871.1 634.1v23.2M871.6 634.1v23.2M872.1 634.1v23.2M872.7 634.1v23.2M873.2 644.2v13.1M873.8 644.2v13.1M874.4 644.2v0M874.9 644.2v0M875.5 644.2v0M876 644.2v0M876.5 644.2v0M877 644.2v0M877.5 644.2v0M878 644.2v0M878.5 644.2v0M879 644.2v0M879.5 644.2v0M880 644.2v0M880.5 644.2v0M881 644.2v0M881.5 657.3v0M882 657.3v0M882.5 657.3v0M883 657.3v0M883.5 657.3v0M884 657.3v0M884.2 657.3v0M884.4 657.3v0M884.6 657.3v0M884.8 657.3v0M885 657.3v0M885.2 657.3v0M885.4 672.5v0M885.6 672.5v0M885.8 672.5v0M886 672.5v0M886.2 672.5v0M886.4 672.5v0M886.6 672.5v0M886.8 672.5v0M887 672.5v0M887.2 672.5v0M887.4 690.3v0M887.6 690.3v0M887.8 690.3v0M888 690.3v0M888.5 690.3v0M888.9 690.3v0M889.4 690.3v0M889.9 690.3v0M890.3 690.3v0M890.8 690.3v0M891.3 690.3v0M891.8 690.3v0M892.3 690.3v0M892.8 690.3v0M893.3 690.3v0M893.8 690.3v0M894.3 690.3v0M894.9 690.3v0M895.4 690.3v0M895.9 690.3v0M896.4 690.3v0M896.9 690.3v0M897.4 690.3v0M897.9 690.3v0M898.4 690.3v0M898.9 690.3v0M899.4 690.3v0M899.9 690.3v0M900.4 690.3v0M900.9 690.3v0M901.4 690.3v0M902 690.3v0M902.5 690.3v0M903 690.3v0M903.5 690.3v0M904 690.3v0M904.5 690.3v0M905 690.3v0M905.5 690.3v0" fill="none" stroke="#515151" stroke-width="12" stroke-linecap="square"/>
<path d="M203.2 678.2v12.5M204.7 678.2v12.5M206.2 678.2v12.5M207.7 678.2v12.5M209.2 678.2v12.5M210.7 678.2v12.5M212.2 678.2v12.5M213.7 678.2v12.5M215.2 678.2v12.5M216.7 678.2v12.5M218.2 678.2v12.5M219.7 678.2v12.5M221.2 678.2v12.5M222.7 678.2v12.5M224.2 678.2v12.5M225.7 678.2v12.5M227.2 678.2v12.5M228.7 678.2v12.5M230.2 678.2v12.5M231.7 678.2v12.5M233.2 678.2v12.5M234.7 678.2v12.5M236.2 678.2v12.5M237.7 678.2v12.5M239.2 678.2v12.5M240.7 678.2v12.5M242.2 678.2v12.5M243.7 678.2v12.5M245.2 678.2v12.5M246.7 678.2v12.5M248.2 678.2v12.5M249.7 678.2v12.5M251.2 678.2v12.5M252.7 678.2v12.5M254.2 678.2v12.5M255.7 678.2v12.5M257.2 678.2v12.5M258.7 678.2v12.5M260.2 678.2v12.5M261.7 678.2v12.5M263.2 678.2v12.5M264.7 678.2v12.5M266.2 678.2v12.5M267.7 678.2v12.5M269.2 678.2v12.5M270.7 678.2v12.5M272.2 678.2v12.5M273.7 678.2v12.5M275.2 678.2v12.5M276.7 678.2v12.5M278.2 678.2v12.5M279.7 678.2v12.5M281.2 678.2v12.5M282.7 678.2v12.5M284.2 678.2v12.5M285.7 678.2v12.5M287.2 678.2v12.5M288.7 678.2v12.5M290.2 678.2v12.5M291.7 678.2v12.5M293.2 678.2v12.5M294.7 678.2v12.5M296.2 678.2v12.5M297.7 678.2v12.5M299.2 678.2v12.5M300.7 678.2v12.5M302.2 678.2v12.5M303.7 678.2v12.5M305.2 678.2v12.5M306.7 678.2v12.5M308.2 678.2v12.5M309.7 678.2v12.5M311.2 678.2v12.5M312.7 678.2v12.5M314.2 678.2v12.5M315.7 678.2v12.5M317.2 678.2v12.5M318.7 678.2v12.5M320.2 678.2v12.5M321.7 678.2v12.5M323.2 678.2v12.5M324.7 678.2v12.5M326.2 678.2v12.5M327.7 678.2v12.5M329.2 678.2v12.5M330.7 678.2v12.5M332.2 678.2v12.5M333.7 678.2v12.5M335.2 678.2v12.5M336.7 678.2v12.5M338.2 678.2v12.5M339.7 678.2v12.5M341.2 678.2v12.5M342.7 678.2v12.5M344.2 678.2v12.5M345.7 678.2v12.5M347.2 678.2v12.5M348.7 678.2v12.5M350.2 678.2v12.5M351.7 678.2v12.5M353.2 678.2v12.5M354.7 678.2v12.5M356.2 678.2v12.5M357.7 678.2v12.5M359.2 678.2v12.5M360.7 678.2v12.5M362.2 678.2v12.5M363.7 678.2v12.5M365.2 678.2v12.5M366.7 678.2v12.5M368.2 678.2v12.5M369.7 678.2v12.5M371.2 678.2v12.5M372.7 678.2v12.5M374.2 678.2v12.5M375.7 678.2v12.5M198.2 675v0M349 665.3v8M210.2 665.3v8M213.2 665.3v8M215.2 665.3v8M219.2 665.3v8M225.2 665.3v8M226.2 665.3v8M227.2 665.3v8M232.2 665.3v8M233.2 665.3v8M236.2 665.3v8M241.2 665.3v8M242.2 665.3v8M247.2 665.3v8M249.2 665.3v8M250.2 665.3v8M251.2 665.3v8M278.2 665.3v8M279.2 665.3v8M281.2 665.3v8M287.2 665.3v8M293.2 665.3v8M298.2 665.3v8M299.2 665.3v8M304.2 665.3v8M309.2 665.3v8M313.2 665.3v8M314.2 665.3v8M316.2 665.3v8M317.2 665.3v8M322.2 665.3v8M324.2 665.3v8M327.2 665.3v8M331.2 665.3v8M333.2 665.3v8M354 668v8M355 666v8.7M356 664v9.3M357 662v10M357.9 661.1v10.5M358.8 660.1v11M359.6 659.2v11.5M360.5 658.3v12M361.4 658.7v11.5M362.2 659.1v11M363.1 659.6v10.5M364 660v10M364.8 659.9v10M365.6 659.8v10M366.4 659.7v10M367.2 659.6v10M368 659.5v10M368.8 659.4v10M369.6 659.3v10M370.4 659.2v10M371.2 659.1v10M372 659v10M372.9 658.9v10M373.7 658.9v10M374.6 658.8v10M375.4 658.7v10M376.3 658.6v10M377.1 658.6v10M378 658.5v10M378.8 657.2v9.8M379.6 655.9v9.6M380.4 654.6v9.4M381.2 653.3v9.2M382 652v9M382.1 648.5v9M382.2 645v9M382.4 641.6v9M382.5 638.1v9M382.6 634.6v9M383.1 631.3v9M383.5 628v9M384 624.7v9M384.4 621.4v9M384.9 618.1v9M385.3 614.8v9M385.8 611.5v9M386.5 607.7v9M387.1 603.8v9M387.8 600v9M388.1 596.8v9M388.4 593.6v9M388.7 590.4v9M388.9 587.2v9M389.2 584v9M389.5 580.8v9M389.8 577.6v9M390.1 574.4v9M390.4 571.2v9M390.6 568v9M390.9 564.8v9M391.2 561.6v9M391.5 558.4v9M391.8 555.2v9M392.1 552v9M392.3 548.8v9M392.6 545.6v9M392.9 542.4v9M393.2 539.2v9M393.5 536v9M393.8 532.8v9M394 529.6v9M394.3 526.4v9M394.6 523.2v9M394.9 520v9M395.1 516.6v9M395.3 513.1v9M395.5 509.7v9M395.7 506.3v9M395.9 502.8v9M396.1 499.4v9M396.3 496v9M396.5 492.5v9M396.7 489.1v9M397 485.7v9M397.4 482.2v9M397.7 478.8v9M398 475.3v9M398.4 471.9v9M398.7 468.4v9M399 465v9M399.3 461.5v9M399.7 458.1v9M400 454.6v9M400.3 451.1v9M400.6 447.7v9M400.9 444.2v9M401.2 440.8v9M401.6 437.3v9M401.9 433.8v9M402.2 430.4v9M402.5 426.9v9M402.8 423.5v9M403.1 420v9M403.4 416.8v9.2M403.8 413.6v9.3M404.1 410.4v9.5M404.5 407.2v9.7M404.8 403.9v9.8M405.1 400.7v10M405.5 397.5v10.2M405.8 394.3v10.3M406.1 391.1v10.5M406.5 387.9v10.7M406.8 384.7v10.8M407.2 381.5v11M407.5 378.3v11.2M407.8 375v11.3M408.2 371.8v11.5M408.5 368.6v11.7M408.9 365.4v11.8M409.2 362.2v12M409.7 358.9v12M410.2 355.6v12M410.7 352.3v12M411.1 349v12M411.6 345.7v12M412.1 342.4v12M412.6 339.1v12M413.2 335.7v12M413.8 332.2v12M414.4 328.8v12M414.9 325.3v12M415.5 321.8v12M416.1 318.4v12M417 314.9v11.5M417.8 311.5v11M418.6 308.1v10.5M419.5 304.6v10M420.6 301.1v8M421.8 297.5v6M422.9 295.9v4.5M424 294.4v3M424.9 294.4v3M425.8 294.4v3M426.6 294.4v3M427.5 294.4v3M428.6 296.2v4.5M429.8 298v6M430.9 301.3v8M431.9 304.6v10M432.7 307.1v10.3M433.5 309.5v10.6M434.3 312v10.9M435.2 314.4v11.1M436 316.9v11.4M436.8 319.3v11.7M437.6 321.8v12M438.4 324.3v12M439.3 326.7v12M440.1 329.2v12M440.9 331.7v12M441.7 334.2v12M442.6 336.6v12M443.4 339.1v12M444.3 342.6v12M445.2 346v12M446.2 349.5v12M447.1 352.9v12M448 356.4v12M448.8 360.3v12M449.5 364.1v12M450.3 368v12M451 371.4v11.6M451.6 374.9v11.1M452.3 378.3v10.7M453 381.7v10.3M453.7 385.1v9.9M454.3 388.6v9.4M455 392v9M455.8 395.4v8.7M456.6 398.9v8.4M457.4 402.3v8.1M458.1 405.7v7.9M458.9 409.1v7.6M459.7 412.6v7.3M460.5 416v7M461.4 418.6v7M462.2 421.1v7M463.1 423.7v7M464 426.2v7M464.9 428.8v7M465.8 431.4v7M466.6 433.9v7M467.5 436.5v7M468.4 438.8v7M469.2 441.1v7M470.1 443.3v7M471 445.6v7M471.8 447.9v7M472.7 450.2v7M473.6 452.4v7M474.4 454.7v7M475.3 457v7M476.1 458.1v7.3M477 459.3v7.5M477.8 460.4v7.8M478.6 461.5v8.1M479.5 462.7v8.4M480.3 463.8v8.6M481.2 465v8.9M482 466.1v9.2M482.8 467.2v9.5M483.7 468.4v9.7M484.5 469.5v10M485.3 470.2v10M486.2 470.8v10M487 471.5v10M487.8 472.1v10M488.7 472.8v10M489.5 473.4v10M490.3 474.1v10M491.2 474.8v10M492 475.4v10M492.8 476.1v10M493.7 476.7v10M494.5 477.4v10M495.3 476.7v10M496.2 476.1v10M497 475.4v10M497.8 474.7v10M498.7 474.1v10M499.5 473.4v10M500.3 472.7v10M501.1 472v10M502 471.4v10M502.8 470.7v10M503.6 470v10M504.5 469.4v10M505.3 468.7v10M506.1 467.8v9.9M507 467v9.8M507.9 466.1v9.7M508.7 465.2v9.6M509.5 464.4v9.5M510.4 463.5v9.4M511.2 462.6v9.3M512.1 461.7v9.2M512.9 460.9v9.1M513.8 460v9M514.7 459.6v9M515.6 459.3v9M516.5 458.9v9M517.3 458.6v9M518.2 458.2v9M519.1 457.9v9M520 457.5v9M520.8 457.3v9M521.7 457.1v9M522.5 456.8v9M523.4 456.6v9M524.2 456.4v9M525.1 456.2v9M525.9 455.9v9M526.7 455.7v9M527.6 455.5v9M528.4 455.3v9M529.3 455.1v9M530.1 454.8v9M531 454.6v9M531.8 454.4v9M532.6 454.5v9M533.4 454.7v9M534.2 454.8v9M535 454.9v9M535.9 455v9M536.7 455.2v9M537.5 455.3v9M538.3 455.4v9M539.1 455.6v9M539.9 455.7v9M540.7 455.8v9M541.5 456v9M542.4 456.1v9M543.2 456.2v9M544 456.3v9M544.8 456.5v9M545.6 456.6v9M546.4 457.1v9M547.3 457.5v9M548.1 458v9M549 458.4v9M549.8 458.9v9M550.6 459.3v9M551.5 459.8v9M552.3 460.2v9M553.1 460.7v9M554 461.1v9M554.8 461.6v9M555.7 462v9M556.5 462.5v9M557.3 463.5v9M558.1 464.4v9M559 465.4v9M559.8 466.3v9M560.6 467.3v9M561.5 468.2v9M562.3 469.2v9M563.1 470.2v9M563.9 471.1v9M564.8 472.1v9M565.6 473v9M566.4 474v9M567.2 474.6v9.2M568 475.2v9.3M568.8 475.8v9.5M569.6 476.3v9.7M570.4 476.9v9.8M571.2 477.5v10M572 478.1v10.2M572.8 478.7v10.3M573.6 479.2v10.5M574.4 479.8v10.7M575.2 480.4v10.8M576 481v11M576.8 481.6v11.4M577.6 482.2v11.8M578.4 482.8v12.2M579.2 483.4v12.6M580 484v13M580.8 485.3v13.4M581.7 486.6v13.9M582.5 487.9v14.3M583.4 489.1v14.7M584.2 490.4v15.1M585.1 491.7v15.6M585.9 493v16M586.8 495.4v16.1M587.7 497.9v16.3M588.6 500.3v16.4M589.4 502.7v16.6M590.3 505.1v16.7M591.2 507.6v16.9M592.1 510v17M592.9 513.6v17M593.7 517.2v17M594.6 520.8v17M595.4 524.4v17M596.2 528v17M596.9 531.4v16.6M597.5 534.8v16.2M598.2 538.2v15.8M598.8 541.6v15.4M599.5 545v15M600.2 548.4v14.4M600.9 551.7v13.8M601.6 555.1v13.2M602.3 558.4v12.6M603 561.8v12M603.5 565.4v11.2M604 569.1v10.4M604.5 572.7v9.6M605 576.4v8.8M605.5 580v8M605.9 583.4v7.6M606.3 586.8v7.2M606.6 590.2v6.8M607 593.6v6.4M607.4 597v6M608.1 600.4v8.4M608.8 603.8v10.8M609.6 607.2v13.2M610.3 610.6v15.6M611 614v18M611.6 617.2v19.6M612.2 620.4v21.2M612.8 623.6v22.8M613.4 626.8v24.4M614 630v26M614.4 633.6v26M614.9 637.1v26M615.3 640.7v26M615.7 644.3v26M616.1 647.9v26M616.6 651.4v26M617 655v26M617.3 658.5v24M617.7 662v22M618 665.5v20M618.3 669v18M618.7 672.5v16M619 676v14M619.2 679.6v10.5M619.5 683.2v7M619.8 686.8v3.5M620 690.4v0M620.8 690.4v0M621.6 690.4v0M622.4 690.4v0M623.2 690.4v0M624.1 690.4v0M624.9 690.4v0M625.7 690.4v0M626.5 690.4v0M627.3 690.4v0M627.8 686.8v1.1M628.4 683.1v2.3M628.9 679.5v3.4M629.4 675.9v4.6M629.9 672.3v5.7M630.5 668.6v6.9M631 665v8M631.6 661.3v8M632.2 657.7v8M632.8 654v8M633.3 650.3v8M633.9 646.7v8M634.5 643v8M635.2 639.7v8M635.8 636.3v8M636.5 633v8M637.2 629.7v8M637.8 626.3v8M638.5 623v8M639.4 620.7v8M640.2 618.4v8M641.1 616.1v8M642 613.8v8M642.9 611.5v8M643.7 609.2v8M644.6 606.9v8M645.5 604.6v8M646.3 602.3v8M647.2 600v8M648.2 597v8.5M649.1 594v9M650 591v9.5M651 588v10M652 585.3v12M653 582.6v14M653.9 583.2v13M654.8 583.8v12M655.6 584.4v11M656.5 585v10M657.3 588.5v9.7M658 592v9.3M658.8 595.5v9M659.6 599v8.7M660.3 602.5v8.3M661.1 606v8M662 609.5v8M662.9 613v8M663.7 616.5v8M664.6 620v8M665.2 623.6v8M665.9 627.2v8M666.5 630.8v8M667.2 634.4v8M667.8 638v8M668.6 639.6v9.2M669.5 641.2v10.4M670.3 642.8v11.6M671.2 644.4v12.8M672 646v14M672.9 648.3v14M673.7 650.6v14M674.6 652.9v14M675.4 655.1v14M676.3 657.4v14M677.1 659.7v14M678 662v14M678.8 665v13.3M679.7 668v12.7M680.5 671v12M681.3 674v11.3M682.2 677v10.7M683 680v10M683.7 683.5v6.7M684.3 686.9v3.3M685 690.4v0M685.8 690.4v0M686.7 690.4v0M687.5 690.4v0M688.3 690.4v0M689.2 690.4v0M690 690.4v0M690.4 686.8v1.4M690.7 683.1v2.9M691.1 679.5v4.3M691.4 675.9v5.7M691.8 672.3v7.1M692.1 668.6v8.6M692.5 665v10M693.1 661.7v10.7M693.7 658.3v11.3M694.2 655v12M694.8 651.7v12.7M695.4 648.3v13.3M696 645v14M697 641.5v14.7M698 638.1v15.3M699 634.6v16M700.1 632v17M701.3 629.5v18M702.3 630.4v18M703.4 631.3v18M704.3 631.6v18M705.2 632v18M706.2 632.3v18M707.1 632.7v18M708 633v18M708.8 634v17.6M709.6 635v17.2M710.4 636v16.8M711.2 637v16.4M712 638v16M712.8 639v15.7M713.7 640v15.3M714.5 641v15M715.3 642v14.7M716.2 643v14.3M717 644v14M717.8 648v13M718.5 652v12M718.8 655.3v11.3M719 658.7v10.7M719.2 662v10M719.5 665.3v9.3M719.8 668.7v8.7M720 672v8M720.4 675.7v6.4M720.8 679.4v4.8M721.2 683v3.2M721.6 686.7v1.6M722 690.4v0M722.9 690.4v0M723.7 690.4v0M724.6 690.4v0M725.4 690.4v0M726.3 690.4v0M727.1 690.4v0M728 690.4v0M728.7 686.9v0.5M729.3 683.4v1.1M730 679.9v1.6M730.7 676.4v2.2M731.3 672.9v2.7M732 669.5v3.3M732.6 666v3.8M733.3 662.5v4.4M734 659v4.9M734.6 655.5v5.5M735.3 652v6M735.9 648.2v7M736.5 644.5v8M737.3 644.5v8M738.1 644.5v8M738.9 644.5v8M739.7 644.5v8M740.5 644.5v8M741.1 648.2v7M741.8 652v6M742.6 653.3v6M743.5 654.5v6M744.3 655.8v6M745.2 657v6M746 658.3v6M746.8 658.3v11.2M747.7 658.3v16.4M748.5 658.3v21.6M749.4 658.3v26.8M750.2 658.3v32M751 658.3v32M751.9 658.3v32M752.7 658.3v32M753.6 658.3v32M754.4 658.3v32M755.3 658.3v32M756.1 658.3v32M756.9 658.3v32M757.8 658.3v32M758.6 658.3v32M759.5 658.3v32M760.3 658.3v32M761.2 658.3v32M762 658.3v32M762.8 658.1v27.2M763.6 657.9v22.4M764.4 657.6v17.6M765.2 657.4v12.8M766 657.2v8M766.9 656.2v8.3M767.7 655.2v8.6M768.6 654.2v8.9M769.4 653.3v9.1M770.3 652.3v9.4M771.1 651.3v9.7M772 650.3v10M772.9 649.1v10.4M773.8 648v10.8M774.7 646.8v11.2M775.6 645.7v11.6M776.5 644.5v12M777.3 644.5v12M778.1 644.5v12M779 644.4v12M779.8 644.4v12M780.6 644.4v12M781.4 644.4v12M782.3 644.4v12M783.1 644.4v12M783.9 644.3v12M784.7 644.3v12M785.6 644.3v12M786.4 644.3v12M787.2 644.3v12M788 644.3v12M788.8 644.2v12M789.7 644.2v12M790.5 644.2v12M791.3 644.2v12M792.1 644.2v12M793 644.2v12M793.8 644.1v12M794.6 644.1v12M795.4 644.1v12M796.2 644.1v12M797.1 644.1v12M797.9 644.1v12M798.7 644v12M799.5 644v12M800.4 644v12M801.2 644v12M802 644v12M802.8 644v12M803.7 643.9v12M804.5 643.9v12M805.3 643.9v12M806.2 642.9v13.2M807.1 641.9v14.4M808.1 640.8v15.6M809 639.8v16.8M809.9 638.8v18M810.7 638.2v18.4M811.6 637.5v18.7M812.4 636.9v19.1M813.2 636.3v19.5M814.1 635.6v19.8M814.9 635v20.2M815.8 634.3v20.5M816.6 633.7v20.9M817.4 633.1v21.3M818.3 632.4v21.6M819.1 631.8v22M820 630.9v22.4M820.9 630v22.8M821.9 629v23.2M822.8 628.1v23.6M823.7 627.2v24M824.5 627.2v23.9M825.3 627.2v23.9M826.1 627.2v23.8M826.9 627.2v23.8M827.7 627.2v23.7M828.5 627.2v23.6M829.3 627.2v23.6M830.1 627.2v23.5M830.9 627.1v23.4M831.7 627.1v23.4M832.5 627.1v23.3M833.3 627.1v23.2M834.1 627.1v23.2M834.9 627.1v23.1M835.7 627.1v23.1M836.5 627.1v23M837.4 627.1v22.9M838.2 627.1v22.9M839 627.1v22.8M839.8 627.1v22.8M840.6 627.1v22.7M841.4 627.1v22.6M842.2 627.1v22.6M843 627v22.5M843.8 627v22.4M844.6 627v22.4M845.4 627v22.3M846.2 627v22.2M847 627v22.2M847.8 627v22.1M848.6 627v22.1M849.4 627v22M850.2 627.9v21.3M851 628.8v20.6M851.8 629.7v19.9M852.6 630.6v19.2M853.4 631.5v18.5M854.2 632.4v17.8M855 633.3v17.1M855.8 634.2v16.4M856.6 635.1v15.7M857.4 636v15M858.3 636.3v15M859.2 636.6v15M860.2 636.9v15M861.1 637.2v15M862 637.5v15M862.8 637.5v15M863.6 637.5v15M864.4 637.5v15M865.2 637.5v15M866 637.5v15M866.9 637.5v15M867.7 637.5v15M868.5 637.5v15M869.3 637.5v15M870.1 637.5v15M870.9 637.5v15M871.7 637.5v15M872.5 637.5v15M873.3 637.5v15M874.1 637.5v15M875 637.5v15M875.8 637.5v15M876.6 637.5v15M877.4 637.5v15M878.2 637.5v15M879 637.5v15M879.8 637.5v15M880.6 637.5v15M881.4 637.5v15M882.2 637.5v15M883 637.5v15M883.9 637.5v15M884.7 637.5v15M885.5 637.5v15M886.3 637.5v15M887.1 637.5v15M887.9 637.5v15M888.7 637.5v15M889.5 637.5v15M890.3 637.5v15M891.1 637.5v15M892 637.5v15M892.8 637.5v15M893.6 637.5v15M894.4 637.5v15M895.2 637.5v15M896 637.5v15M896.9 638v14.6M897.7 638.5v14.1M898.6 639v13.7M899.4 639.5v13.3M900.3 640v12.9M901.1 640.5v12.4M902 641v12M902.9 642.5v11M903.8 644v10M904.6 645.5v9M905.5 647v8" fill="none" stroke="#F14040" stroke-width="13" stroke-linecap="round"/>
<path d="M197.8 682.9l8 13h-16zM197.8 671.8l8 13h-16zM198.8 682.9l8 13h-16zM198.8 671.8l8 13h-16zM199.8 682.9l8 13h-16zM199.8 671.8l8 13h-16zM200.8 682.9l8 13h-16zM200.8 671.8l8 13h-16zM201.8 682.9l8 13h-16zM201.8 671.8l8 13h-16zM202.8 682.9l8 13h-16zM202.8 671.8l8 13h-16zM203.8 682.9l8 13h-16zM203.8 671.8l8 13h-16zM204.8 682.9l8 13h-16zM204.8 671.8l8 13h-16zM205.8 682.9l8 13h-16zM205.8 671.8l8 13h-16zM206.8 682.9l8 13h-16zM206.8 671.8l8 13h-16zM207.8 682.9l8 13h-16zM207.8 671.8l8 13h-16zM208.8 682.9l8 13h-16zM208.8 671.8l8 13h-16zM209.8 682.9l8 13h-16zM209.8 671.8l8 13h-16zM210.8 682.9l8 13h-16zM210.8 671.8l8 13h-16zM211.8 682.9l8 13h-16zM211.8 671.8l8 13h-16zM212.8 682.9l8 13h-16zM212.8 671.8l8 13h-16zM213.8 682.9l8 13h-16zM213.8 671.8l8 13h-16zM214.8 682.9l8 13h-16zM214.8 671.8l8 13h-16zM215.8 682.9l8 13h-16zM215.8 671.8l8 13h-16zM216.8 682.9l8 13h-16zM216.8 671.8l8 13h-16zM217.8 682.9l8 13h-16zM217.8 671.8l8 13h-16zM218.8 682.9l8 13h-16zM218.8 671.8l8 13h-16zM219.8 682.9l8 13h-16zM219.8 671.8l8 13h-16zM220.8 682.9l8 13h-16zM220.8 671.8l8 13h-16zM221.8 682.9l8 13h-16zM221.8 671.8l8 13h-16zM222.8 682.9l8 13h-16zM222.8 671.8l8 13h-16zM223.8 682.9l8 13h-16zM223.8 671.8l8 13h-16zM224.8 682.9l8 13h-16zM224.8 671.8l8 13h-16zM225.8 682.9l8 13h-16zM225.8 671.8l8 13h-16zM226.8 682.9l8 13h-16zM226.8 671.8l8 13h-16zM227.8 682.9l8 13h-16zM227.8 671.8l8 13h-16zM228.8 682.9l8 13h-16zM228.8 671.8l8 13h-16zM229.8 682.9l8 13h-16zM229.8 671.8l8 13h-16zM230.8 682.9l8 13h-16zM230.8 671.8l8 13h-16zM231.8 682.9l8 13h-16zM231.8 671.8l8 13h-16zM232.8 682.9l8 13h-16zM232.8 671.8l8 13h-16zM233.8 682.9l8 13h-16zM233.8 671.8l8 13h-16zM234.8 682.9l8 13h-16zM234.8 671.8l8 13h-16zM235.8 682.9l8 13h-16zM235.8 671.8l8 13h-16zM236.8 682.9l8 13h-16zM236.8 671.8l8 13h-16zM237.8 682.9l8 13h-16zM237.8 671.8l8 13h-16zM238.8 682.9l8 13h-16zM238.8 671.8l8 13h-16zM239.8 682.9l8 13h-16zM239.8 671.8l8 13h-16zM240.8 682.9l8 13h-16zM240.8 671.8l8 13h-16zM241.8 682.9l8 13h-16zM241.8 671.8l8 13h-16zM242.8 682.9l8 13h-16zM242.8 671.8l8 13h-16zM243.8 682.9l8 13h-16zM243.8 671.8l8 13h-16zM244.8 682.9l8 13h-16zM244.8 671.8l8 13h-16zM245.8 682.9l8 13h-16zM245.8 671.8l8 13h-16zM246.8 682.9l8 13h-16zM246.8 671.8l8 13h-16zM247.8 682.9l8 13h-16zM247.8 671.8l8 13h-16zM248.8 682.9l8 13h-16zM248.8 671.8l8 13h-16zM249.8 682.9l8 13h-16zM249.8 671.8l8 13h-16zM250.8 682.9l8 13h-16zM250.8 671.8l8 13h-16zM251.8 682.9l8 13h-16zM251.8 671.8l8 13h-16zM252.8 682.9l8 13h-16zM252.8 671.8l8 13h-16zM253.8 682.9l8 13h-16zM253.8 671.8l8 13h-16zM254.8 682.9l8 13h-16zM254.8 671.8l8 13h-16zM255.8 682.9l8 13h-16zM255.8 671.8l8 13h-16zM256.8 682.9l8 13h-16zM256.8 671.8l8 13h-16zM257.8 682.9l8 13h-16zM257.8 671.8l8 13h-16zM258.8 682.9l8 13h-16zM258.8 671.8l8 13h-16zM259.8 682.9l8 13h-16zM259.8 671.8l8 13h-16zM260.8 682.9l8 13h-16zM260.8 671.8l8 13h-16zM261.8 682.9l8 13h-16zM261.8 671.8l8 13h-16zM262.8 682.9l8 13h-16zM262.8 671.8l8 13h-16zM263.8 682.9l8 13h-16zM263.8 671.8l8 13h-16zM264.8 682.9l8 13h-16zM264.8 671.8l8 13h-16zM265.8 682.9l8 13h-16zM265.8 671.8l8 13h-16zM266.8 682.9l8 13h-16zM266.8 671.8l8 13h-16zM267.8 682.9l8 13h-16zM267.8 671.8l8 13h-16zM268.8 682.9l8 13h-16zM268.8 671.8l8 13h-16zM269.8 682.9l8 13h-16zM269.8 671.8l8 13h-16zM270.8 682.9l8 13h-16zM270.8 671.8l8 13h-16zM271.8 682.9l8 13h-16zM271.8 671.8l8 13h-16zM272.8 682.9l8 13h-16zM272.8 671.8l8 13h-16zM273.8 682.9l8 13h-16zM273.8 671.8l8 13h-16zM274.8 682.9l8 13h-16zM274.8 671.8l8 13h-16zM275.8 682.9l8 13h-16zM275.8 671.8l8 13h-16zM276.8 682.9l8 13h-16zM276.8 671.8l8 13h-16zM277.8 682.9l8 13h-16zM277.8 671.8l8 13h-16zM278.8 682.9l8 13h-16zM278.8 671.8l8 13h-16zM279.8 682.9l8 13h-16zM279.8 671.8l8 13h-16zM280.8 682.9l8 13h-16zM280.8 671.8l8 13h-16zM281.8 682.9l8 13h-16zM281.8 671.8l8 13h-16zM282.8 682.9l8 13h-16zM282.8 671.8l8 13h-16zM283.8 682.9l8 13h-16zM283.8 671.8l8 13h-16zM284.8 682.9l8 13h-16zM284.8 671.8l8 13h-16zM285.8 682.9l8 13h-16zM285.8 671.8l8 13h-16zM286.8 682.9l8 13h-16zM286.8 671.8l8 13h-16zM287.8 682.9l8 13h-16zM287.8 671.8l8 13h-16zM288.8 682.9l8 13h-16zM288.8 671.8l8 13h-16zM289.8 682.9l8 13h-16zM289.8 671.8l8 13h-16zM290.8 682.9l8 13h-16zM290.8 671.8l8 13h-16zM291.8 682.9l8 13h-16zM291.8 671.8l8 13h-16zM292.8 682.9l8 13h-16zM292.8 671.8l8 13h-16zM293.8 682.9l8 13h-16zM293.8 671.8l8 13h-16zM294.8 682.9l8 13h-16zM294.8 671.8l8 13h-16zM295.8 682.9l8 13h-16zM295.8 671.8l8 13h-16zM296.8 682.9l8 13h-16zM296.8 671.8l8 13h-16zM297.8 682.9l8 13h-16zM297.8 671.8l8 13h-16zM298.8 682.9l8 13h-16zM298.8 671.8l8 13h-16zM299.8 682.9l8 13h-16zM299.8 671.8l8 13h-16zM300.8 682.9l8 13h-16zM300.8 671.8l8 13h-16zM301.8 682.9l8 13h-16zM301.8 671.8l8 13h-16zM302.8 682.9l8 13h-16zM302.8 671.8l8 13h-16zM303.8 682.9l8 13h-16zM303.8 671.8l8 13h-16zM304.8 682.9l8 13h-16zM304.8 671.8l8 13h-16zM305.8 682.9l8 13h-16zM305.8 671.8l8 13h-16zM306.8 682.9l8 13h-16zM306.8 671.8l8 13h-16zM307.8 682.9l8 13h-16zM307.8 671.8l8 13h-16zM308.8 682.9l8 13h-16zM308.8 671.8l8 13h-16zM309.8 682.9l8 13h-16zM309.8 671.8l8 13h-16zM310.8 682.9l8 13h-16zM310.8 671.8l8 13h-16zM311.8 682.9l8 13h-16zM311.8 671.8l8 13h-16zM312.8 682.9l8 13h-16zM312.8 671.8l8 13h-16zM313.8 682.9l8 13h-16zM313.8 671.8l8 13h-16zM314.8 682.9l8 13h-16zM314.8 671.8l8 13h-16zM315.8 682.9l8 13h-16zM315.8 671.8l8 13h-16zM316.8 682.9l8 13h-16zM316.8 671.8l8 13h-16zM317.8 682.9l8 13h-16zM317.8 671.8l8 13h-16zM318.8 682.9l8 13h-16zM318.8 671.8l8 13h-16zM319.8 682.9l8 13h-16zM319.8 671.8l8 13h-16zM320.8 682.9l8 13h-16zM320.8 671.8l8 13h-16zM321.8 682.9l8 13h-16zM321.8 671.8l8 13h-16zM322.8 682.9l8 13h-16zM322.8 671.8l8 13h-16zM323.8 682.9l8 13h-16zM323.8 671.8l8 13h-16zM324.8 682.9l8 13h-16zM324.8 671.8l8 13h-16zM325.8 682.9l8 13h-16zM325.8 671.8l8 13h-16zM326.8 682.9l8 13h-16zM326.8 671.8l8 13h-16zM327.8 682.9l8 13h-16zM327.8 671.8l8 13h-16zM328.8 682.9l8 13h-16zM328.8 671.8l8 13h-16zM329.8 682.9l8 13h-16zM329.8 671.8l8 13h-16zM330.8 682.9l8 13h-16zM330.8 671.8l8 13h-16zM331.8 682.9l8 13h-16zM331.8 671.8l8 13h-16zM332.8 682.9l8 13h-16zM332.8 671.8l8 13h-16zM333.8 682.9l8 13h-16zM333.8 671.8l8 13h-16zM334.8 682.9l8 13h-16zM334.8 671.8l8 13h-16zM335.8 682.9l8 13h-16zM335.8 671.8l8 13h-16zM336.8 682.9l8 13h-16zM336.8 671.8l8 13h-16zM337.8 682.9l8 13h-16zM337.8 671.8l8 13h-16zM338.8 682.9l8 13h-16zM338.8 671.8l8 13h-16zM339.8 682.9l8 13h-16zM339.8 671.8l8 13h-16zM340.8 682.9l8 13h-16zM340.8 671.8l8 13h-16zM341.8 682.9l8 13h-16zM341.8 671.8l8 13h-16zM342.8 682.9l8 13h-16zM342.8 671.8l8 13h-16zM343.8 682.9l8 13h-16zM343.8 671.8l8 13h-16zM344.8 682.9l8 13h-16zM344.8 671.8l8 13h-16zM345.8 682.9l8 13h-16zM345.8 671.8l8 13h-16zM346.8 682.9l8 13h-16zM346.8 671.8l8 13h-16zM347.8 682.9l8 13h-16zM347.8 671.8l8 13h-16zM348.8 682.9l8 13h-16zM348.8 671.8l8 13h-16zM349.8 682.9l8 13h-16zM349.8 671.8l8 13h-16zM350.8 682.9l8 13h-16zM350.8 671.8l8 13h-16zM351.8 682.9l8 13h-16zM351.8 671.8l8 13h-16zM352.8 682.9l8 13h-16zM352.8 671.8l8 13h-16zM353.8 682.9l8 13h-16zM353.8 671.8l8 13h-16zM354.8 682.9l8 13h-16zM354.8 671.8l8 13h-16zM355.8 682.9l8 13h-16zM355.8 671.8l8 13h-16zM356.8 682.9l8 13h-16zM356.8 671.8l8 13h-16zM357.8 682.9l8 13h-16zM357.8 671.8l8 13h-16zM358.8 682.9l8 13h-16zM358.8 671.8l8 13h-16zM359.8 682.9l8 13h-16zM359.8 671.8l8 13h-16zM360.8 682.9l8 13h-16zM360.8 671.8l8 13h-16zM361.8 682.9l8 13h-16zM361.8 671.8l8 13h-16zM362.8 682.9l8 13h-16zM362.8 671.8l8 13h-16zM363.8 682.9l8 13h-16zM363.8 671.8l8 13h-16zM364.8 682.9l8 13h-16zM364.8 671.8l8 13h-16zM365.8 682.9l8 13h-16zM365.8 671.8l8 13h-16zM366.8 682.9l8 13h-16zM366.8 671.8l8 13h-16zM367.8 682.9l8 13h-16zM367.8 671.8l8 13h-16zM368.8 682.9l8 13h-16zM368.8 671.8l8 13h-16zM369.8 682.9l8 13h-16zM369.8 671.8l8 13h-16zM370.8 682.9l8 13h-16zM370.8 671.8l8 13h-16zM371.8 682.9l8 13h-16zM371.8 671.8l8 13h-16zM372.8 682.9l8 13h-16zM372.8 671.8l8 13h-16zM373.8 682.9l8 13h-16zM373.8 671.8l8 13h-16zM374.8 682.9l8 13h-16zM374.8 671.8l8 13h-16zM375.8 682.9l8 13h-16zM375.8 671.8l8 13h-16zM376.8 682.9l8 13h-16zM376.8 671.8l8 13h-16zM201 666l8 13h-16zM208 666l8 13h-16zM210.5 666l8 13h-16zM216 666l8 13h-16zM228 666l8 13h-16zM233 666l8 13h-16zM244 666l8 13h-16zM254 666l8 13h-16zM265 666l8 13h-16zM276 666l8 13h-16zM284 666l8 13h-16zM292 666l8 13h-16zM294.5 666l8 13h-16zM300 666l8 13h-16zM309 666l8 13h-16zM317 666l8 13h-16zM323 666l8 13h-16zM325.5 666l8 13h-16zM333 666l8 13h-16zM335.5 666l8 13h-16zM342 666l8 13h-16zM344.5 666l8 13h-16zM353 666l8 13h-16zM359 666l8 13h-16zM368 666l8 13h-16zM377 682.8l8 13h-16zM378.1 680.7l8 13h-16zM379.2 678.4l8 13h-16zM380.3 677.1l8 13h-16zM381.4 675.2l8 13h-16zM382.5 672.2l8 13h-16zM383.5 671.2l8 13h-16zM384.5 668.5l8 13h-16zM385.5 668.4l8 13h-16zM386.5 666.8l8 13h-16zM388.2 658.3l8 13h-16zM390 649.8l8 13h-16zM390.6 643l8 13h-16zM391.1 637.5l8 13h-16zM391.5 633l8 13h-16zM391.8 626.6l8 13h-16zM392.2 622.4l8 13v0.6h-16v-0.6zM392.5 616.8l8 13v0.8h-16v-0.8zM392.9 611.6l8 13v1h-16v-1zM393.2 606.4l8 13v1.2h-16v-1.2zM393.6 602.7l8 13v1.4h-16v-1.4zM393.9 596.4l8 13v1.6h-16v-1.6zM394.2 591.6l8 13v1.8h-16v-1.8zM394.6 586.8l8 13v2h-16v-2zM395.6 582.2l8 13v2.3h-16v-2.3zM396.6 575l8 13v2.7h-16v-2.7zM397.6 570.1l8 13v3h-16v-3zM398.5 564.8l8 13v3.3h-16v-3.3zM399.5 559.9l8 13v3.7h-16v-3.7zM400.5 554.1l8 13v4h-16v-4zM401.2 549.1l8 13v4h-16v-4zM401.9 542.7l8 13v4h-16v-4zM402.6 537.8l8 13v4h-16v-4zM403.3 532.6l8 13v4h-16v-4zM404 528.4l8 13v4h-16v-4zM404.7 523.4l8 13v4h-16v-4zM405.4 516.6l8 13v4h-16v-4zM406.1 511.5l8 13v4h-16v-4zM406.8 506.5l8 13v4h-16v-4zM407.3 501.4l8 13v4h-16v-4zM407.7 496.9l8 13v4h-16v-4zM408.2 492.1l8 13v4h-16v-4zM408.6 486.4l8 13v4h-16v-4zM409.1 480.9l8 13v4h-16v-4zM410.3 475.2l8 13v4h-16v-4zM411.4 468.6l8 13v4h-16v-4zM412.6 462.4l8 13v4h-16v-4zM413.8 458.9l8 13v4h-16v-4zM414.9 454l8 13v4h-16v-4zM416.1 449.4l8 13v4h-16v-4zM417.2 445.2l8 13v4h-16v-4zM418.4 443.5l8 13v3.8h-16v-3.8zM419.5 440.3l8 13v3.6h-16v-3.6zM420.7 440.1l8 13v3.4h-16v-3.4zM421.8 438l8 13v3.2h-16v-3.2zM423 436.2l8 13v3h-16v-3zM424 435.5l8 13v2.8h-16v-2.8zM425 434.2l8 13v2.7h-16v-2.7zM426 433.6l8 13v2.5h-16v-2.5zM427 432.4l8 13v2.3h-16v-2.3zM428 432.9l8 13v2.2h-16v-2.2zM429 431.2l8 13v2h-16v-2zM430 432l8 13v2.7h-16v-2.7zM431 433.1l8 13v3.3h-16v-3.3zM432 433.8l8 13v4h-16v-4zM433.2 436.5l8 13v5h-16v-5zM434.5 438.3l8 13v6h-16v-6zM435.7 440.6l8 13v7h-16v-7zM436.7 443.2l8 13v7h-16v-7zM437.8 445.4l8 13v7h-16v-7zM438.8 448.2l8 13v7h-16v-7zM439.8 449.9l8 13v7h-16v-7zM440.9 453.8l8 13v7h-16v-7zM441.9 455.6l8 13v7h-16v-7zM442.9 457l8 13v7h-16v-7zM444 459.5l8 13v7h-16v-7zM445 462l8 13v7h-16v-7zM446 464.8l8 13v7h-16v-7zM447 467.2l8 13v7h-16v-7zM448.1 471.4l8 13v7h-16v-7zM449.1 474.5l8 13v7h-16v-7zM450.1 476.3l8 13v7h-16v-7zM451.1 479.1l8 13v7h-16v-7zM452.2 481.1l8 13v7h-16v-7zM453.2 484l8 13v7h-16v-7zM454.2 487.3l8 13v7h-16v-7zM455.5 490.2l8 13v7h-16v-7zM456.9 494.4l8 13v7h-16v-7zM457.9 494.8l8 13v7h-16v-7zM458.9 496.3l8 13v7h-16v-7zM460 499.9l8 13v7h-16v-7zM461 500.9l8 13v7h-16v-7zM462 501.9l8 13v7h-16v-7zM463 505.1l8 13v7h-16v-7zM464 506.5l8 13v7h-16v-7zM465 509.9l8 13v7h-16v-7zM466 512.4l8 13v7h-16v-7zM467 513.8l8 13v7h-16v-7zM468 515.1l8 13v7h-16v-7zM469 515.8l8 13v7h-16v-7zM470 517.7l8 13v7h-16v-7zM471 518.9l8 13v7h-16v-7zM472 521.7l8 13v7h-16v-7zM473 522.9l8 13v7h-16v-7zM474.1 524.9l8 13v7h-16v-7zM475.1 525.5l8 13v7h-16v-7zM476.2 526.7l8 13v7h-16v-7zM477.2 529.4l8 13v7h-16v-7zM478.3 531.3l8 13v7h-16v-7zM479.4 532.5l8 13v7h-16v-7zM480.4 533.9l8 13v7h-16v-7zM481.5 535.4l8 13v7h-16v-7zM482.6 536.4l8 13v7h-16v-7zM483.7 536.4l8 13v7h-16v-7zM484.8 538.1l8 13v7h-16v-7zM485.8 538.8l8 13v7h-16v-7zM486.9 539.3l8 13v7h-16v-7zM488 540.4l8 13v7h-16v-7zM489 541.8l8 13v7h-16v-7zM490 542.7l8 13v7h-16v-7zM491 544.5l8 13v7h-16v-7zM492 546l8 13v7h-16v-7zM493 545.9l8 13v7h-16v-7zM494 547.9l8 13v7h-16v-7zM495 547.9l8 13v7h-16v-7zM496 547.7l8 13v7h-16v-7zM497 546.4l8 13v7h-16v-7zM498 545.9l8 13v7h-16v-7zM499 544.9l8 13v7h-16v-7zM500 543.7l8 13v7h-16v-7zM501 542.7l8 13v7h-16v-7zM502 542.4l8 13v7h-16v-7zM503.1 542.4l8 13v7h-16v-7zM504.1 541.7l8 13v7h-16v-7zM505.2 540.4l8 13v7h-16v-7zM506.2 540.1l8 13v7h-16v-7zM507.3 539.8l8 13v7h-16v-7zM508.3 537.8l8 13v7h-16v-7zM509.4 538.3l8 13v7h-16v-7zM510.4 538.2l8 13v7h-16v-7zM511.5 537.4l8 13v7h-16v-7zM512.6 536.9l8 13v7h-16v-7zM513.7 535.9l8 13v7h-16v-7zM514.8 534.8l8 13v7h-16v-7zM515.8 535.6l8 13v7h-16v-7zM516.9 534.3l8 13v7h-16v-7zM518 534.7l8 13v7h-16v-7zM519.1 534.6l8 13v7h-16v-7zM520.2 533.5l8 13v7h-16v-7zM521.3 533.6l8 13v7h-16v-7zM522.4 534.7l8 13v7h-16v-7zM523.5 534.3l8 13v7h-16v-7zM524.5 533.2l8 13v7h-16v-7zM525.6 533.1l8 13v7h-16v-7zM526.7 533.2l8 13v7h-16v-7zM527.8 534.7l8 13v7h-16v-7zM528.9 534.6l8 13v7h-16v-7zM530 533.3l8 13v7h-16v-7zM531 534.7l8 13v7h-16v-7zM532 535l8 13v7h-16v-7zM533 534.3l8 13v7h-16v-7zM534 533.7l8 13v7h-16v-7zM535 534.1l8 13v7h-16v-7zM536 533.3l8 13v7h-16v-7zM537 533l8 13v7h-16v-7zM538 534.9l8 13v7h-16v-7zM539 534.3l8 13v7h-16v-7zM540 534.1l8 13v7h-16v-7zM541 534.9l8 13v7h-16v-7zM542 533.9l8 13v7h-16v-7zM543 534.9l8 13v7h-16v-7zM544 534.9l8 13v7h-16v-7zM545 533.8l8 13v7h-16v-7zM546 534l8 13v7h-16v-7zM547 534.2l8 13v7h-16v-7zM548 534.2l8 13v7h-16v-7zM549 535l8 13v7h-16v-7zM550 534.5l8 13v7h-16v-7zM551 535.2l8 13v7h-16v-7zM552 534.9l8 13v7h-16v-7zM553 536.8l8 13v7h-16v-7zM554 536l8 13v7h-16v-7zM555 536.5l8 13v7h-16v-7zM556 537.1l8 13v7h-16v-7zM557 538l8 13v7h-16v-7zM558 537.4l8 13v7h-16v-7zM559 538.7l8 13v7h-16v-7zM560 538.2l8 13v7h-16v-7zM561 539.1l8 13v7h-16v-7zM562.1 539.9l8 13v7h-16v-7zM563.1 539.7l8 13v7h-16v-7zM564.2 541.4l8 13v7h-16v-7zM565.2 541.7l8 13v7h-16v-7zM566.3 542.2l8 13v7h-16v-7zM567.3 544.6l8 13v7h-16v-7zM568.4 544.2l8 13v7h-16v-7zM569.4 545.6l8 13v7h-16v-7zM570.5 546.9l8 13v7h-16v-7zM571.5 547.4l8 13v7h-16v-7zM572.5 547.6l8 13v7h-16v-7zM573.6 548.7l8 13v7h-16v-7zM574.6 549.4l8 13v7h-16v-7zM575.7 550.5l8 13v7h-16v-7zM576.7 549.8l8 13v7h-16v-7zM577.8 551.4l8 13v7h-16v-7zM578.8 551.4l8 13v7h-16v-7zM579.9 552.2l8 13v7h-16v-7zM580.9 553.8l8 13v7h-16v-7zM582 554l8 13v7h-16v-7zM583 554.7l8 13v7h-16v-7zM584.1 555.6l8 13v7h-16v-7zM585.1 556.4l8 13v7h-16v-7zM586.2 555.9l8 13v7h-16v-7zM587.2 556.7l8 13v7h-16v-7zM588.3 557l8 13v7h-16v-7zM589.3 557.5l8 13v7h-16v-7zM590.4 558.3l8 13v7h-16v-7zM591.4 558.3l8 13v7h-16v-7zM592.5 558.9l8 13v7h-16v-7zM593.5 559.3l8 13v7h-16v-7zM594.6 560.7l8 13v7h-16v-7zM595.7 560.6l8 13v7h-16v-7zM596.9 561.4l8 13v7h-16v-7zM598 561.9l8 13v7h-16v-7zM599.2 560.9l8 13v7h-16v-7zM600.3 561.9l8 13v7h-16v-7zM601.6 563.5l8 13v7h-16v-7zM603 564.2l8 13v7h-16v-7zM604 563.5l8 13v7h-16v-7zM605 564.2l8 13v7h-16v-7zM606 565.6l8 13v7h-16v-7zM607 565.6l8 13v7h-16v-7zM608 567.1l8 13v7h-16v-7zM609 568l8 13v7h-16v-7zM610 570.3l8 13v7h-16v-7zM611 572.5l8 13v6.3h-16v-6.3zM612.1 574.6l8 13v5.7h-16v-5.7zM613.1 575l8 13v5h-16v-5zM614.5 581.8l8 13v4.5h-16v-4.5zM616 587.3l8 13v4h-16v-4zM617 589.8l8 13v4h-16v-4zM618 594.8l8 13v4h-16v-4zM619.1 598.4l8 13v4h-16v-4zM620.1 600.4l8 13v4h-16v-4zM621.1 605.4l8 13v4h-16v-4zM622.1 606.4l8 13v4.8h-16v-4.8zM623.2 608.7l8 13v5.5h-16v-5.5zM624.2 611.9l8 13v6.2h-16v-6.2zM625.3 613.7l8 13v7h-16v-7zM626.4 614.4l8 13v7.8h-16v-7.8zM627.4 617.1l8 13v8.5h-16v-8.5zM628.5 619.4l8 13v9.2h-16v-9.2zM629.5 621.2l8 13v10h-16v-10zM630.6 623.9l8 13v10.4h-16v-10.4zM631.7 627.1l8 13v10.8h-16v-10.8zM632.8 630.9l8 13v11.2h-16v-11.2zM633.9 632.5l8 13v11.6h-16v-11.6zM635 636.6l8 13v12h-16v-12zM636 640.1l8 13v12h-16v-12zM637 643l8 13v12h-16v-12zM638 647.4l8 13v12h-16v-12zM639 651.7l8 13v12h-16v-12zM640 656.5l8 13v11h-16v-11zM641 660.6l8 13v10h-16v-10zM641 667.7l8 13v7.5h-16v-7.5zM641 672.6l8 13v5h-16v-5zM641 678.3l8 13v2.5h-16v-2.5zM641 681.8l8 13h-16zM642 682.1l8 13h-16zM643 681.7l8 13h-16zM644 683.2l8 13h-16zM645.1 682.1l8 13h-16zM646.1 681.9l8 13h-16zM647.1 682.4l8 13h-16zM648.1 683.4l8 13h-16zM649.1 683.2l8 13h-16zM650.1 682.1l8 13h-16zM651.1 681.9l8 13h-16zM652.2 683.4l8 13h-16zM653.2 682.7l8 13h-16zM654.2 683l8 13h-16zM655.2 681.8l8 13h-16zM655.3 675.7l8 13v0.8h-16v-0.8zM655.4 671l8 13v1.6h-16v-1.6zM655.4 664.5l8 13v2.4h-16v-2.4zM655.5 657.8l8 13v3.2h-16v-3.2zM655.6 653.6l8 13v4h-16v-4zM656.8 650.3l8 13v4h-16v-4zM657.9 647.9l8 13v4h-16v-4zM659 643.8l8 13v4h-16v-4zM660.2 642.6l8 13v4h-16v-4zM661.4 638.3l8 13v4h-16v-4zM662.5 637.2l8 13v4h-16v-4zM663.6 634.2l8 13v4.8h-16v-4.8zM664.7 631.8l8 13v5.6h-16v-5.6zM665.8 630l8 13v6.4h-16v-6.4zM666.9 628.6l8 13v7.2h-16v-7.2zM668 625l8 13v8h-16v-8zM669 623.9l8 13v9h-16v-9zM670 623.9l8 13v10h-16v-10zM671 622.5l8 13v11h-16v-11zM672 621.4l8 13v12h-16v-12zM673 620.7l8 13v13h-16v-13zM674 619.6l8 13v14h-16v-14zM675 619.4l8 13v14.6h-16v-14.6zM676 619.2l8 13v15.1h-16v-15.1zM677 618.7l8 13v15.7h-16v-15.7zM678 619.2l8 13v16.3h-16v-16.3zM679 617.8l8 13v16.9h-16v-16.9zM680 617.8l8 13v17.4h-16v-17.4zM681 616.7l8 13v18h-16v-18zM682 618.1l8 13v16.5h-16v-16.5zM683 618.5l8 13v15h-16v-15zM684 620l8 13v13.5h-16v-13.5zM685 620.6l8 13v12h-16v-12zM686.2 625.7l8 13v11.4h-16v-11.4zM687.3 629.1l8 13v10.8h-16v-10.8zM688.5 632l8 13v10.2h-16v-10.2zM689.6 636.3l8 13v9.6h-16v-9.6zM690.8 640.9l8 13v9h-16v-9zM692 641.5l8 13v9.8h-16v-9.8zM693.1 645.2l8 13v10.6h-16v-10.6zM694.3 646.8l8 13v11.4h-16v-11.4zM695.4 649.2l8 13v12.2h-16v-12.2zM696.6 652.2l8 13v13h-16v-13zM697.6 653l8 13v14.3h-16v-14.3zM698.7 654.8l8 13v15.7h-16v-15.7zM699.7 656.9l8 13v17h-16v-17zM700.7 659.1l8 13v18.3h-16v-18.3zM701.8 659.5l8 13v19.7h-16v-19.7zM702.8 662.2l8 13v21h-16v-21zM703.8 662.6l8 13v20.3h-16v-20.3zM704.9 663.2l8 13v19.7h-16v-19.7zM705.9 663.4l8 13v19h-16v-19zM706.9 664l8 13v18.3h-16v-18.3zM708 664.1l8 13v17.7h-16v-17.7zM709 665l8 13v17h-16v-17zM710.2 663.4l8 13v18.2h-16v-18.2zM711.4 663.3l8 13v19.5h-16v-19.5zM712.6 660.9l8 13v20.8h-16v-20.8zM713.8 659.2l8 13v22h-16v-22zM714.9 659.8l8 13v21.5h-16v-21.5zM716.1 662l8 13v21h-16v-21zM717.2 662.8l8 13v20.5h-16v-20.5zM718.4 663.1l8 13v20h-16v-20zM719.6 661.3l8 13v21h-16v-21zM720.7 660.1l8 13v22h-16v-22zM721.9 659.1l8 13v23h-16v-23zM722.5 655.4l8 13v12h-16v-12zM723.5 654.1l8 13v12.8h-16v-12.8zM724.5 653.9l8 13v13.6h-16v-13.6zM725.6 652.8l8 13v14.4h-16v-14.4zM726.6 653.5l8 13v15.2h-16v-15.2zM727.6 652.7l8 13v16h-16v-16zM728.6 651.9l8 13v16h-16v-16zM729.7 651.3l8 13v16h-16v-16zM730.7 652.7l8 13v16h-16v-16zM731.7 651.4l8 13v16h-16v-16zM732.8 651.5l8 13v16h-16v-16zM733.8 650.8l8 13v16h-16v-16zM734.8 651.6l8 13v16h-16v-16zM735.9 651.7l8 13v16h-16v-16zM736.9 651.8l8 13v16h-16v-16zM738 651.2l8 13v16h-16v-16zM739 651.8l8 13v16h-16v-16zM740 650.8l8 13v16h-16v-16zM741.1 651.3l8 13v16h-16v-16zM742.1 651l8 13v16h-16v-16zM743.1 651.6l8 13v16h-16v-16zM744.2 650.9l8 13v16h-16v-16zM745.2 650.8l8 13v16h-16v-16zM746.2 651.4l8 13v16h-16v-16zM747.3 651.3l8 13v16h-16v-16zM748.3 652l8 13v16h-16v-16zM749.6 654.2l8 13v13h-16v-13zM751 657l8 13v10h-16v-10zM751.7 661.8l8 13v21h-16v-21zM752.9 662.9l8 13v20.1h-16v-20.1zM754.1 664.1l8 13v19.2h-16v-19.2zM755.2 664.1l8 13v18.2h-16v-18.2zM756.4 664.9l8 13v17.3h-16v-17.3zM757.6 667.2l8 13v16.4h-16v-16.4zM758.6 664.4l8 13v17.4h-16v-17.4zM759.7 664.5l8 13v18.5h-16v-18.5zM760.7 663.3l8 13v19.5h-16v-19.5zM761.7 661.1l8 13v20.6h-16v-20.6zM762.8 661.6l8 13v21.6h-16v-21.6zM763.8 660.7l8 13v22.7h-16v-22.7zM764.8 659.8l8 13v23.1h-16v-23.1zM765.8 659.6l8 13v23.4h-16v-23.4zM766.9 659.4l8 13v23.8h-16v-23.8zM767.9 657.7l8 13v24.1h-16v-24.1zM768.9 658.1l8 13v24.5h-16v-24.5zM770 657.7l8 13v24.9h-16v-24.9zM771 658l8 13v25.2h-16v-25.2zM772 657.6l8 13v25.6h-16v-25.6zM772.6 657.5l8 13v16h-16v-16zM773.9 656.9l8 13v16.1h-16v-16.1zM775.2 657.4l8 13v16.2h-16v-16.2zM776.5 656.9l8 13v16.3h-16v-16.3zM777.5 656.9l8 13v16.3h-16v-16.3zM778.5 656l8 13v16.3h-16v-16.3zM779.6 655.6l8 13v16.3h-16v-16.3zM780.6 655.8l8 13v16.3h-16v-16.3zM781.6 656.2l8 13v16.3h-16v-16.3zM782.6 655.7l8 13v16.3h-16v-16.3zM783.6 657.2l8 13v16.3h-16v-16.3zM784.7 656.6l8 13v16.3h-16v-16.3zM785.7 656.8l8 13v16.3h-16v-16.3zM786.7 656.8l8 13v16.3h-16v-16.3zM787.7 656.9l8 13v16.3h-16v-16.3zM788.7 656.5l8 13v16.3h-16v-16.3zM789.8 655.5l8 13v16.3h-16v-16.3zM790.8 657.1l8 13v16.3h-16v-16.3zM791.8 657l8 13v16.3h-16v-16.3zM792.8 656.5l8 13v16.3h-16v-16.3zM793.8 656.6l8 13v16.3h-16v-16.3zM794.9 656.8l8 13v16.3h-16v-16.3zM795.9 655.6l8 13v16.3h-16v-16.3zM796.9 657l8 13v16.3h-16v-16.3zM797.9 656l8 13v16.3h-16v-16.3zM799 655.6l8 13v16.3h-16v-16.3zM800 656l8 13v16.3h-16v-16.3zM801 657l8 13v16.3h-16v-16.3zM802 655.9l8 13v16.3h-16v-16.3zM803 657l8 13v16.3h-16v-16.3zM804.1 657.5l8 13v16.3h-16v-16.3zM805.1 656.5l8 13v16.3h-16v-16.3zM806.1 656.3l8 13v16.3h-16v-16.3zM807.1 656.5l8 13v16.3h-16v-16.3zM808.1 656.9l8 13v16.3h-16v-16.3zM809.2 657l8 13v16.3h-16v-16.3zM810.2 656.7l8 13v16.3h-16v-16.3zM811.2 656.8l8 13v16.3h-16v-16.3zM812.2 655.7l8 13v16.3h-16v-16.3zM813.2 655.8l8 13v16.3h-16v-16.3zM814.3 656l8 13v16.3h-16v-16.3zM815.3 657l8 13v16.3h-16v-16.3zM816.3 656.1l8 13v16.3h-16v-16.3zM817.3 656.6l8 13v16.3h-16v-16.3zM818.3 655.5l8 13v16.3h-16v-16.3zM819.4 655.6l8 13v16.3h-16v-16.3zM820.4 656l8 13v16.3h-16v-16.3zM821.4 656.8l8 13v16.3h-16v-16.3zM822.4 656.2l8 13v16h-16v-16zM823.4 655.6l8 13v15.8h-16v-15.8zM824.5 654.1l8 13v15.5h-16v-15.5zM825.5 654l8 13v15.3h-16v-15.3zM826.5 653.2l8 13v15h-16v-15zM827.5 652.6l8 13v14.8h-16v-14.8zM828.6 651.2l8 13v14.5h-16v-14.5zM829.6 652.1l8 13v14.3h-16v-14.3zM830.6 650.1l8 13v14h-16v-14zM831.6 650.9l8 13v13.6h-16v-13.6zM832.7 650l8 13v13.1h-16v-13.1zM833.7 647.4l8 13v12.7h-16v-12.7zM834.7 647.6l8 13v12.2h-16v-12.2zM835.8 647.5l8 13v11.8h-16v-11.8zM836.8 647l8 13v11.3h-16v-11.3zM837.8 645.2l8 13v10.9h-16v-10.9zM838.9 644.1l8 13v10.4h-16v-10.4zM839.9 643.2l8 13v10h-16v-10zM840.9 643.8l8 13v10.4h-16v-10.4zM841.9 641.4l8 13v10.9h-16v-10.9zM842.9 641.3l8 13v11.3h-16v-11.3zM844 639.5l8 13v11.7h-16v-11.7zM845 639.3l8 13v12.1h-16v-12.1zM846 639.3l8 13v12.6h-16v-12.6zM847 636.8l8 13v13h-16v-13zM848 637.8l8 13v13.3h-16v-13.3zM849 636.8l8 13v13.7h-16v-13.7zM850 637.2l8 13v14.1h-16v-14.1zM851 636.5l8 13v14.4h-16v-14.4zM852.1 635.6l8 13v14.3h-16v-14.3zM853.1 636.9l8 13v14.3h-16v-14.3zM854.2 636.1l8 13v14.2h-16v-14.2zM855.3 635.1l8 13v14.1h-16v-14.1zM856.3 635.1l8 13v14.1h-16v-14.1zM857.4 636.1l8 13v14h-16v-14zM858.5 637.3l8 13v14h-16v-14zM859.5 638.2l8 13v14h-16v-14zM860.6 639.2l8 13v14h-16v-14zM861.7 640.9l8 13v14h-16v-14zM862.7 642.1l8 13v14h-16v-14zM863.8 644.4l8 13v14h-16v-14zM864.9 644l8 13v14h-16v-14zM865.9 646.7l8 13v14h-16v-14zM867 648.2l8 13v14h-16v-14zM868.1 647.8l8 13v14h-16v-14zM869.2 650.5l8 13v14h-16v-14zM870.3 651.1l8 13v14h-16v-14zM871.4 652.5l8 13v14h-16v-14zM872.4 652.4l8 13v14h-16v-14zM873.5 653.6l8 13v14h-16v-14zM874.6 654.7l8 13v14h-16v-14zM875.7 656.9l8 13v14h-16v-14zM876.8 657.2l8 13v14h-16v-14zM878 658.8l8 13v14.8h-16v-14.8zM879.2 661.1l8 13v15.5h-16v-15.5zM880.4 662.9l8 13v16.2h-16v-16.2zM881.6 664.6l8 13v17h-16v-17zM882.7 662.9l8 13v14.7h-16v-14.7zM883.7 662.5l8 13v12.3h-16v-12.3zM884.8 659.6l8 13v10h-16v-10zM885.8 660.1l8 13v10h-16v-10zM886.8 658l8 13v10h-16v-10zM887.9 657.2l8 13v10h-16v-10zM888.9 657l8 13v10h-16v-10zM889.9 655.6l8 13v10h-16v-10zM891 655.2l8 13v10h-16v-10zM892 655.6l8 13v10h-16v-10zM893 654.7l8 13v10h-16v-10zM894.1 653.8l8 13v10h-16v-10zM895.1 652.7l8 13v10h-16v-10zM896.2 652.6l8 13v10h-16v-10zM897.3 651.9l8 13v10h-16v-10zM898.3 650.4l8 13v10h-16v-10zM899.4 650.1l8 13v10h-16v-10zM900.5 648l8 13v10h-16v-10zM901.5 648.7l8 13v10h-16v-10zM902.6 647.4l8 13v10h-16v-10zM903.7 648.7l8 13v9.3h-16v-9.3zM904.9 649.1l8 13v8.7h-16v-8.7zM906 649.1l8 13v8h-16v-8z" fill="#1A6FDF"/>
<path d="M115.5 57H1000V769H115.5Z" fill="none" stroke="#000" stroke-width="3"/>
<path d="M115.5 769h-14.5M115.5 689.9h-14.5M115.5 610.8h-14.5M115.5 531.7h-14.5M115.5 452.6h-14.5M115.5 373.4h-14.5M115.5 294.3h-14.5M115.5 215.2h-14.5M115.5 136.1h-14.5M115.5 57h-14.5M115.5 729.4h-8M115.5 650.3h-8M115.5 571.2h-8M115.5 492.1h-8M115.5 413h-8M115.5 333.9h-8M115.5 254.8h-8M115.5 175.7h-8M115.5 96.6h-8M115.5 769v14.5M292.4 769v14.5M469.3 769v14.5M646.2 769v14.5M823.1 769v14.5M1000 769v14.5M203.9 769v8M380.9 769v8M557.8 769v8M734.6 769v8M911.5 769v8" stroke="#000" stroke-width="3" fill="none"/>
<text x="92.2" y="780.8" font-size="35.2" text-anchor="end">-2</text>
<text x="92.2" y="701.7" font-size="35.2" text-anchor="end">0</text>
<text x="92.2" y="622.6" font-size="35.2" text-anchor="end">2</text>
<text x="92.2" y="543.5" font-size="35.2" text-anchor="end">4</text>
<text x="92.2" y="464.4" font-size="35.2" text-anchor="end">6</text>
<text x="92.2" y="385.2" font-size="35.2" text-anchor="end">8</text>
<text x="92.2" y="306.1" font-size="35.2" text-anchor="end">10</text>
<text x="92.2" y="227" font-size="35.2" text-anchor="end">12</text>
<text x="92.2" y="147.9" font-size="35.2" text-anchor="end">14</text>
<text x="92.2" y="68.8" font-size="35.2" text-anchor="end">16</text>
<text x="115.5" y="820.7" font-size="35.2" text-anchor="middle">-0.5</text>
<text x="292.4" y="820.7" font-size="35.2" text-anchor="middle">0.0</text>
<text x="469.3" y="820.7" font-size="35.2" text-anchor="middle">0.5</text>
<text x="646.2" y="820.7" font-size="35.2" text-anchor="middle">1.0</text>
<text x="823.1" y="820.7" font-size="35.2" text-anchor="middle">1.5</text>
<text x="1000" y="820.7" font-size="35.2" text-anchor="middle">2.0</text>
<text x="68.7" y="31.8" font-size="37"><tspan font-size="41" dy="1.2">×</tspan><tspan dy="-1.2" dx="-1.5">10</tspan><tspan font-size="25.5" dy="-15" dx="0.5">6</tspan></text>
<text y="860.2" font-size="37"><tspan x="462.2">Time</tspan><tspan x="536" font-size="33">（</tspan><tspan x="571.8">μs</tspan><tspan x="606.2" font-size="33">）</tspan></text>
<text transform="translate(25.9 511.3) rotate(-90)" font-size="36.5">Pressure(Pa)</text>
<rect x="595.6" y="66.5" width="340.1" height="134.7" fill="#fff" stroke="#111" stroke-width="1"/>
<rect x="632" y="85.2" width="12" height="12" fill="#515151"/>
<circle cx="638" cy="134.6" r="6.6" fill="#F14040"/>
<path d="M638 169l8 13h-16z" fill="#1A6FDF"/>
<text x="676.8" y="103" font-size="34.05">Rectangle shape</text>
<text x="676.8" y="146.2" font-size="34.05">Cylindrical shape</text>
<text x="676.8" y="189.8" font-size="34.05">Conical shape</text>
</svg></body></html>
